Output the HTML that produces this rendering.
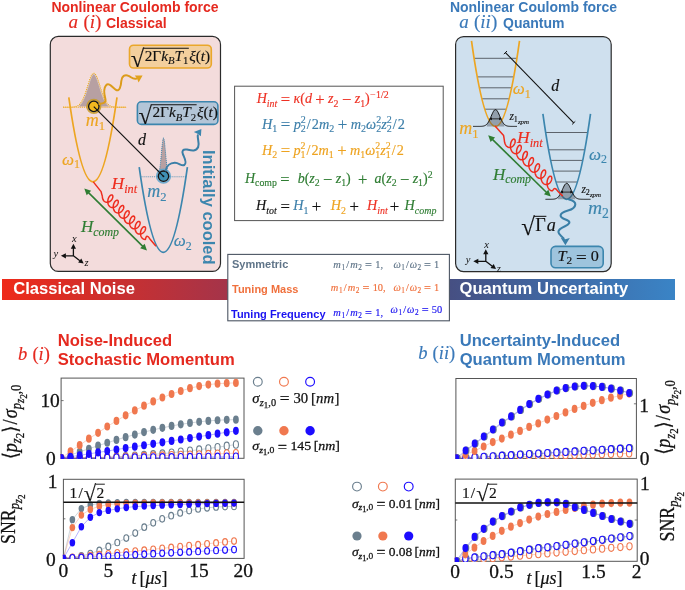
<!DOCTYPE html>
<html><head><meta charset="utf-8"><title>Figure</title>
<style>html,body{margin:0;padding:0;background:#fff}svg{display:block}text{white-space:pre}</style>
</head><body>
<svg width="685" height="590" viewBox="0 0 685 590">
<text x="135" y="11.8" font-family='"Liberation Sans",Arial,sans-serif' font-size="14" font-weight="bold" text-anchor="middle" fill="#e5291f">Nonlinear Coulomb force</text>
<g transform="translate(68.60,28.00)"><text x="0.00" y="0.00" font-family='"Liberation Serif",serif' font-size="19.00" font-style="italic" fill="#e5291f" stroke="#e5291f" stroke-width="0.15">a</text>
<text x="14.82" y="0.00" font-family='"Liberation Serif",serif' font-size="19.00" fill="#e5291f" stroke="#e5291f" stroke-width="0.15">(</text>
<text x="21.15" y="0.00" font-family='"Liberation Serif",serif' font-size="19.00" font-style="italic" fill="#e5291f" stroke="#e5291f" stroke-width="0.15">i</text>
<text x="26.43" y="0.00" font-family='"Liberation Serif",serif' font-size="19.00" fill="#e5291f" stroke="#e5291f" stroke-width="0.15">)</text></g>
<text x="106" y="27.6" font-family='"Liberation Sans",Arial,sans-serif' font-size="14" font-weight="bold" fill="#e5291f">Classical</text>
<text x="533.5" y="11.8" font-family='"Liberation Sans",Arial,sans-serif' font-size="14" font-weight="bold" text-anchor="middle" fill="#3a79b9">Nonlinear Coulomb force</text>
<rect x="50.3" y="36.4" width="170.2" height="235" rx="8" ry="8" fill="#f3dcdc" stroke="#2b2b2b" stroke-width="1.2"/>
<rect x="455.6" y="36.6" width="155.6" height="235" rx="8" ry="8" fill="#cfe0ee" stroke="#2b2b2b" stroke-width="1.2"/>
<path d="M78.50,106.60 L78.50,105.25 L79.27,104.61 L80.05,103.82 L80.82,102.85 L81.60,101.68 L82.37,100.30 L83.14,98.70 L83.92,96.88 L84.69,94.85 L85.47,92.64 L86.24,90.28 L87.01,87.83 L87.79,85.33 L88.56,82.88 L89.33,80.55 L90.11,78.41 L90.88,76.56 L91.66,75.06 L92.43,73.97 L93.20,73.35 L93.98,73.21 L94.75,73.57 L95.52,74.41 L96.30,75.69 L97.07,77.36 L97.84,79.36 L98.62,81.59 L99.39,83.99 L100.17,86.47 L100.94,88.95 L101.71,91.37 L102.49,93.67 L103.26,95.80 L104.03,97.73 L104.81,99.46 L105.58,100.96 L106.36,102.24 L107.13,103.31 L107.90,104.20 L108.68,104.92 L109.45,105.49 L110.22,105.94 L110.22,106.60 Z" fill="#b7a0a2" stroke="none"/>
<path d="M63.80,107.20 L64.57,107.20 L65.35,107.20 L66.12,107.20 L66.89,107.20 L67.67,107.19 L68.44,107.19 L69.22,107.18 L69.99,107.17 L70.76,107.15 L71.54,107.12 L72.31,107.08 L73.08,107.02 L73.86,106.93 L74.63,106.82 L75.41,106.65 L76.18,106.43 L76.95,106.14 L77.73,105.75 L78.50,105.25 L79.27,104.61 L80.05,103.82 L80.82,102.85 L81.60,101.68 L82.37,100.30 L83.14,98.70 L83.92,96.88 L84.69,94.85 L85.47,92.64 L86.24,90.28 L87.01,87.83 L87.79,85.33 L88.56,82.88 L89.33,80.55 L90.11,78.41 L90.88,76.56 L91.66,75.06 L92.43,73.97 L93.20,73.35 L93.98,73.21 L94.75,73.57 L95.52,74.41 L96.30,75.69 L97.07,77.36 L97.84,79.36 L98.62,81.59 L99.39,83.99 L100.17,86.47 L100.94,88.95 L101.71,91.37 L102.49,93.67 L103.26,95.80 L104.03,97.73 L104.81,99.46 L105.58,100.96 L106.36,102.24 L107.13,103.31 L107.90,104.20 L108.68,104.92 L109.45,105.49 L110.22,105.94 L111.00,106.28 L111.77,106.54 L112.55,106.73 L113.32,106.88 L114.09,106.98 L114.87,107.05 L115.64,107.10 L116.42,107.13 L117.19,107.16 L117.96,107.17 L118.74,107.18 L119.51,107.19 L120.28,107.19 L121.06,107.20 L121.83,107.20 L122.61,107.20 L123.38,107.20 L124.15,107.20 L124.93,107.20 L125.70,107.20" fill="none" stroke="#f8e9dc" stroke-width="2.2" stroke-opacity="0.6"/>
<path d="M63.80,107.20 L64.57,107.20 L65.35,107.20 L66.12,107.20 L66.89,107.20 L67.67,107.19 L68.44,107.19 L69.22,107.18 L69.99,107.17 L70.76,107.15 L71.54,107.12 L72.31,107.08 L73.08,107.02 L73.86,106.93 L74.63,106.82 L75.41,106.65 L76.18,106.43 L76.95,106.14 L77.73,105.75 L78.50,105.25 L79.27,104.61 L80.05,103.82 L80.82,102.85 L81.60,101.68 L82.37,100.30 L83.14,98.70 L83.92,96.88 L84.69,94.85 L85.47,92.64 L86.24,90.28 L87.01,87.83 L87.79,85.33 L88.56,82.88 L89.33,80.55 L90.11,78.41 L90.88,76.56 L91.66,75.06 L92.43,73.97 L93.20,73.35 L93.98,73.21 L94.75,73.57 L95.52,74.41 L96.30,75.69 L97.07,77.36 L97.84,79.36 L98.62,81.59 L99.39,83.99 L100.17,86.47 L100.94,88.95 L101.71,91.37 L102.49,93.67 L103.26,95.80 L104.03,97.73 L104.81,99.46 L105.58,100.96 L106.36,102.24 L107.13,103.31 L107.90,104.20 L108.68,104.92 L109.45,105.49 L110.22,105.94 L111.00,106.28 L111.77,106.54 L112.55,106.73 L113.32,106.88 L114.09,106.98 L114.87,107.05 L115.64,107.10 L116.42,107.13 L117.19,107.16 L117.96,107.17 L118.74,107.18 L119.51,107.19 L120.28,107.19 L121.06,107.20 L121.83,107.20 L122.61,107.20 L123.38,107.20 L124.15,107.20 L124.93,107.20 L125.70,107.20" fill="none" stroke="#eda521" stroke-width="1.25" stroke-linecap="round" stroke-dasharray="0.01,2.05"/>
<line x1="63.8" y1="107.2" x2="125.7" y2="107.2" stroke="#eda521" stroke-width="1.25" stroke-linecap="round" stroke-dasharray="0.01,2.05"/>
<path d="M68.80,97.40 Q92.90,266.20 117.00,97.40" fill="none" stroke="#eda521" stroke-width="1.7"/>
<path d="M157.00,176.70 L157.00,176.38 L157.19,176.28 L157.37,176.15 L157.56,176.00 L157.74,175.80 L157.93,175.56 L158.11,175.26 L158.30,174.90 L158.49,174.47 L158.67,173.95 L158.86,173.35 L159.04,172.64 L159.23,171.82 L159.41,170.88 L159.60,169.82 L159.79,168.62 L159.97,167.29 L160.16,165.83 L160.34,164.23 L160.53,162.51 L160.71,160.69 L160.90,158.76 L161.09,156.77 L161.27,154.72 L161.46,152.65 L161.64,150.59 L161.83,148.58 L162.01,146.65 L162.20,144.83 L162.39,143.17 L162.57,141.69 L162.76,140.44 L162.94,139.43 L163.13,138.70 L163.31,138.25 L163.50,138.10 L163.69,138.25 L163.87,138.70 L164.06,139.43 L164.24,140.44 L164.43,141.69 L164.61,143.17 L164.80,144.83 L164.99,146.65 L165.17,148.58 L165.36,150.59 L165.54,152.65 L165.73,154.72 L165.91,156.77 L166.10,158.76 L166.29,160.69 L166.47,162.51 L166.66,164.23 L166.84,165.83 L167.03,167.29 L167.21,168.62 L167.40,169.82 L167.59,170.88 L167.77,171.82 L167.96,172.64 L168.14,173.35 L168.33,173.95 L168.51,174.47 L168.70,174.90 L168.89,175.26 L169.07,175.56 L169.26,175.80 L169.44,176.00 L169.63,176.15 L169.81,176.28 L170.00,176.38 L170.00,176.70 Z" fill="#b7a0a2" stroke="none"/>
<path d="M157.00,176.38 L157.19,176.28 L157.37,176.15 L157.56,176.00 L157.74,175.80 L157.93,175.56 L158.11,175.26 L158.30,174.90 L158.49,174.47 L158.67,173.95 L158.86,173.35 L159.04,172.64 L159.23,171.82 L159.41,170.88 L159.60,169.82 L159.79,168.62 L159.97,167.29 L160.16,165.83 L160.34,164.23 L160.53,162.51 L160.71,160.69 L160.90,158.76 L161.09,156.77 L161.27,154.72 L161.46,152.65 L161.64,150.59 L161.83,148.58 L162.01,146.65 L162.20,144.83 L162.39,143.17 L162.57,141.69 L162.76,140.44 L162.94,139.43 L163.13,138.70 L163.31,138.25 L163.50,138.10 L163.69,138.25 L163.87,138.70 L164.06,139.43 L164.24,140.44 L164.43,141.69 L164.61,143.17 L164.80,144.83 L164.99,146.65 L165.17,148.58 L165.36,150.59 L165.54,152.65 L165.73,154.72 L165.91,156.77 L166.10,158.76 L166.29,160.69 L166.47,162.51 L166.66,164.23 L166.84,165.83 L167.03,167.29 L167.21,168.62 L167.40,169.82 L167.59,170.88 L167.77,171.82 L167.96,172.64 L168.14,173.35 L168.33,173.95 L168.51,174.47 L168.70,174.90 L168.89,175.26 L169.07,175.56 L169.26,175.80 L169.44,176.00 L169.63,176.15 L169.81,176.28 L170.00,176.38" fill="none" stroke="#3c86ae" stroke-width="1.15" stroke-linecap="round" stroke-dasharray="0.01,2.05"/>
<line x1="142" y1="176.7" x2="185.5" y2="176.7" stroke="#3c86ae" stroke-width="1.15" stroke-linecap="round" stroke-dasharray="0.01,2.05"/>
<path d="M139.20,167.20 Q163.30,337.60 187.40,167.20" fill="none" stroke="#3c86ae" stroke-width="1.7"/>
<line x1="93.8" y1="106.6" x2="163.5" y2="176.3" stroke="#111" stroke-width="1.2"/>
<circle cx="93.8" cy="106.4" r="6.7" fill="none" stroke="#c79a22" stroke-width="1.9" stroke-opacity="0.85"/>
<circle cx="93.8" cy="106.4" r="5.2" fill="#f2b81f" stroke="#151515" stroke-width="1.3"/>
<circle cx="163.5" cy="176.2" r="6.7" fill="none" stroke="#5aa3cc" stroke-width="1.9" stroke-opacity="0.85"/>
<circle cx="163.5" cy="176.2" r="5.2" fill="#3f90b4" stroke="#151515" stroke-width="1.3"/>
<line x1="93.8" y1="106.6" x2="99" y2="111.8" stroke="#111" stroke-width="1.2"/>
<line x1="158" y1="170.8" x2="163.5" y2="176.3" stroke="#111" stroke-width="1.2"/>
<circle cx="163.5" cy="176.3" r="0.9" fill="#111"/>
<path d="M99.4,104 C103,103.5 106.5,103 105.3,98.5 C104.2,94 102.8,89 106,85.3 C109,82 112.5,87.5 116,89.8 C119.5,92 121,86 121.3,81 C121.6,76 125,74.2 128.5,75.8 C131.5,77.2 133,79.8 136.5,78.6" fill="none" stroke="#dc9c1b" stroke-width="2.0" stroke-linecap="round"/>
<path d="M142.6,75.4 L134.8,75.6 L137.0,78.4 L138.6,82.6 Z" fill="#e2a21c"/>
<path d="M165.8,170.4 C166.5,166 170,163 174.7,162.8 C179,162.6 181.5,166.5 184.3,165 C187.5,163.3 184.5,158 183,154.5 C181.5,151 183,148.8 187,149.6 C191,150.4 196,152 198.2,147 C199.8,143 197.2,139.5 197.8,135.2" fill="none" stroke="#3a7fa7" stroke-width="2.0" stroke-linecap="round"/>
<path d="M201.4,128.9 L193.8,132 L197.6,133.8 L200.9,136.2 Z" fill="#3c86ae"/>
<rect x="129.5" y="45.2" width="81.8" height="22.8" rx="4" fill="#f3cf9d" stroke="#eaa72b" stroke-width="1.6"/>
<rect x="137.4" y="101.8" width="80.5" height="22.6" rx="4" fill="#b3c5d7" stroke="#3c86ae" stroke-width="1.6"/>
<g transform="translate(130.80,60.80)"><text x="0.00" y="6.27" font-family='"Liberation Serif",serif' font-size="24.48" fill="#111" stroke="#111" stroke-width="0.15">√</text>
<text x="13.87" y="0.00" font-family='"Liberation Serif",serif' font-size="15.30" fill="#111" stroke="#111" stroke-width="0.15">2Γ</text>
<text x="30.36" y="0.00" font-family='"Liberation Serif",serif' font-size="15.30" font-style="italic" fill="#111" stroke="#111" stroke-width="0.15">k</text>
<text x="37.16" y="3.37" font-family='"Liberation Serif",serif' font-size="10.71" font-style="italic" fill="#111" stroke="#111" stroke-width="0.15">B</text>
<text x="43.70" y="0.00" font-family='"Liberation Serif",serif' font-size="15.30" font-style="italic" fill="#111" stroke="#111" stroke-width="0.15">T</text>
<text x="52.21" y="3.37" font-family='"Liberation Serif",serif' font-size="10.71" fill="#111" stroke="#111" stroke-width="0.15">1</text>
<text x="58.33" y="0.00" font-family='"Liberation Serif",serif' font-size="15.30" font-style="italic" fill="#111" stroke="#111" stroke-width="0.15">ξ</text>
<text x="64.88" y="0.00" font-family='"Liberation Serif",serif' font-size="15.30" fill="#111" stroke="#111" stroke-width="0.15">(</text>
<text x="69.97" y="0.00" font-family='"Liberation Serif",serif' font-size="15.30" font-style="italic" fill="#111" stroke="#111" stroke-width="0.15">t</text>
<text x="74.22" y="0.00" font-family='"Liberation Serif",serif' font-size="15.30" fill="#111" stroke="#111" stroke-width="0.15">)</text>
<line x1="12.68" y1="-12.55" x2="58.02" y2="-12.55" stroke="#111" stroke-width="1.03"/></g>
<g transform="translate(138.60,117.40)"><text x="0.00" y="6.27" font-family='"Liberation Serif",serif' font-size="24.48" fill="#111" stroke="#111" stroke-width="0.15">√</text>
<text x="13.87" y="0.00" font-family='"Liberation Serif",serif' font-size="15.30" fill="#111" stroke="#111" stroke-width="0.15">2Γ</text>
<text x="30.36" y="0.00" font-family='"Liberation Serif",serif' font-size="15.30" font-style="italic" fill="#111" stroke="#111" stroke-width="0.15">k</text>
<text x="37.16" y="3.37" font-family='"Liberation Serif",serif' font-size="10.71" font-style="italic" fill="#111" stroke="#111" stroke-width="0.15">B</text>
<text x="43.70" y="0.00" font-family='"Liberation Serif",serif' font-size="15.30" font-style="italic" fill="#111" stroke="#111" stroke-width="0.15">T</text>
<text x="52.21" y="3.37" font-family='"Liberation Serif",serif' font-size="10.71" fill="#111" stroke="#111" stroke-width="0.15">2</text>
<text x="58.33" y="0.00" font-family='"Liberation Serif",serif' font-size="15.30" font-style="italic" fill="#111" stroke="#111" stroke-width="0.15">ξ</text>
<text x="64.88" y="0.00" font-family='"Liberation Serif",serif' font-size="15.30" fill="#111" stroke="#111" stroke-width="0.15">(</text>
<text x="69.97" y="0.00" font-family='"Liberation Serif",serif' font-size="15.30" font-style="italic" fill="#111" stroke="#111" stroke-width="0.15">t</text>
<text x="74.22" y="0.00" font-family='"Liberation Serif",serif' font-size="15.30" fill="#111" stroke="#111" stroke-width="0.15">)</text>
<line x1="12.68" y1="-12.55" x2="58.02" y2="-12.55" stroke="#111" stroke-width="1.03"/></g>
<g transform="translate(85.80,126.00)"><text x="0.00" y="0.00" font-family='"Liberation Serif",serif' font-size="18.00" font-style="italic" fill="#eda521" stroke="#eda521" stroke-width="0.15">m</text>
<text x="13.00" y="3.96" font-family='"Liberation Serif",serif' font-size="12.60" fill="#eda521" stroke="#eda521" stroke-width="0.15">1</text></g>
<g transform="translate(62.00,164.50)"><text x="0.00" y="0.00" font-family='"Liberation Serif",serif' font-size="17.00" font-style="italic" fill="#eda521" stroke="#eda521" stroke-width="0.15">ω</text>
<text x="12.00" y="3.74" font-family='"Liberation Serif",serif' font-size="11.90" fill="#eda521" stroke="#eda521" stroke-width="0.15">1</text></g>
<g transform="translate(137.90,144.70)"><text x="0.00" y="0.00" font-family='"Liberation Serif",serif' font-size="16.00" font-style="italic" fill="#111" stroke="#111" stroke-width="0.15">d</text></g>
<g transform="translate(147.20,196.80)"><text x="0.00" y="0.00" font-family='"Liberation Serif",serif' font-size="18.00" font-style="italic" fill="#3c86ae" stroke="#3c86ae" stroke-width="0.15">m</text>
<text x="13.00" y="3.96" font-family='"Liberation Serif",serif' font-size="12.60" fill="#3c86ae" stroke="#3c86ae" stroke-width="0.15">2</text></g>
<g transform="translate(173.70,246.00)"><text x="0.00" y="0.00" font-family='"Liberation Serif",serif' font-size="17.00" font-style="italic" fill="#3c86ae" stroke="#3c86ae" stroke-width="0.15">ω</text>
<text x="12.00" y="3.74" font-family='"Liberation Serif",serif' font-size="11.90" fill="#3c86ae" stroke="#3c86ae" stroke-width="0.15">2</text></g>
<g transform="translate(111.50,189.40)"><text x="0.00" y="0.00" font-family='"Liberation Serif",serif' font-size="17.50" font-style="italic" fill="#ee2d1f" stroke="#ee2d1f" stroke-width="0.15">H</text>
<text x="12.64" y="3.85" font-family='"Liberation Serif",serif' font-size="12.25" font-style="italic" fill="#ee2d1f" stroke="#ee2d1f" stroke-width="0.15">int</text></g>
<g transform="translate(80.90,231.90)"><text x="0.00" y="0.00" font-family='"Liberation Serif",serif' font-size="17.00" font-style="italic" fill="#2f7d33" stroke="#2f7d33" stroke-width="0.15">H</text>
<text x="12.28" y="3.74" font-family='"Liberation Serif",serif' font-size="11.90" font-style="italic" fill="#2f7d33" stroke="#2f7d33" stroke-width="0.15">comp</text></g>
<text transform="translate(202.9,150) rotate(90)" font-family='"Liberation Sans",Arial,sans-serif' font-size="16.5" font-weight="bold" fill="#3c86ae">Initially cooled</text>
<path d="M93.70,182.40 L101.10,191.60 Q101.50,193.50 102.36,196.18 L102.38,196.88 L102.45,197.56 L102.57,198.22 L102.75,198.85 L102.99,199.45 L103.27,200.01 L103.61,200.52 L103.98,200.97 L104.41,201.36 L104.86,201.69 L105.35,201.95 L105.87,202.14 L106.40,202.26 L106.95,202.30 L107.51,202.28 L108.07,202.19 L108.62,202.03 L109.16,201.81 L109.69,201.54 L110.19,201.21 L110.65,200.83 L111.09,200.42 L111.48,199.97 L111.83,199.50 L112.14,199.01 L112.39,198.52 L112.59,198.03 L112.73,197.55 L112.83,197.08 L112.86,196.65 L112.85,196.24 L112.78,195.88 L112.66,195.57 L112.50,195.31 L112.29,195.11 L112.05,194.97 L111.77,194.90 L111.47,194.90 L111.15,194.97 L110.81,195.12 L110.46,195.33 L110.11,195.61 L109.76,195.96 L109.43,196.37 L109.11,196.84 L108.81,197.37 L108.55,197.94 L108.31,198.55 L108.12,199.19 L107.97,199.86 L107.87,200.55 L107.81,201.24 L107.81,201.94 L107.87,202.62 L107.97,203.29 L108.14,203.94 L108.35,204.55 L108.62,205.12 L108.94,205.65 L109.30,206.12 L109.71,206.53 L110.15,206.88 L110.63,207.17 L111.14,207.38 L111.67,207.52 L112.21,207.60 L112.77,207.60 L113.33,207.53 L113.88,207.40 L114.43,207.20 L114.96,206.94 L115.47,206.63 L115.95,206.27 L116.39,205.86 L116.80,205.43 L117.17,204.96 L117.49,204.48 L117.76,203.99 L117.98,203.50 L118.14,203.01 L118.25,202.54 L118.31,202.09 L118.31,201.68 L118.26,201.30 L118.16,200.97 L118.01,200.69 L117.82,200.47 L117.59,200.31 L117.32,200.22 L117.03,200.19 L116.71,200.24 L116.38,200.36 L116.03,200.55 L115.68,200.81 L115.33,201.13 L114.99,201.52 L114.67,201.97 L114.36,202.48 L114.08,203.03 L113.84,203.63 L113.63,204.27 L113.47,204.93 L113.35,205.61 L113.28,206.30 L113.26,207.00 L113.29,207.69 L113.38,208.36 L113.52,209.02 L113.72,209.64 L113.97,210.23 L114.27,210.77 L114.62,211.26 L115.01,211.70 L115.44,212.07 L115.91,212.37 L116.41,212.61 L116.93,212.78 L117.47,212.88 L118.02,212.91 L118.58,212.86 L119.14,212.75 L119.69,212.57 L120.23,212.33 L120.74,212.04 L121.23,211.70 L121.69,211.31 L122.12,210.88 L122.50,210.43 L122.83,209.95 L123.12,209.46 L123.36,208.97 L123.54,208.48 L123.67,208.00 L123.74,207.54 L123.76,207.12 L123.73,206.73 L123.65,206.38 L123.52,206.08 L123.34,205.84 L123.12,205.66 L122.87,205.54 L122.58,205.50 L122.27,205.52 L121.94,205.61 L121.60,205.77 L121.25,206.01 L120.90,206.31 L120.56,206.68 L120.23,207.11 L119.91,207.60 L119.63,208.14 L119.37,208.72 L119.15,209.34 L118.97,210.00 L118.83,210.67 L118.74,211.36 L118.71,212.06 L118.72,212.75 L118.79,213.43 L118.92,214.10 L119.10,214.73 L119.33,215.33 L119.61,215.89 L119.94,216.40 L120.32,216.85 L120.74,217.25 L121.19,217.58 L121.68,217.84 L122.20,218.03 L122.73,218.15 L123.28,218.20 L123.84,218.18 L124.40,218.10 L124.95,217.94 L125.49,217.72 L126.02,217.45 L126.52,217.12 L126.99,216.75 L127.42,216.33 L127.82,215.89 L128.17,215.42 L128.48,214.93 L128.73,214.44 L128.93,213.95 L129.08,213.46 L129.17,213.00 L129.21,212.56 L129.20,212.16 L129.13,211.79 L129.02,211.48 L128.86,211.22 L128.65,211.01 L128.41,210.88 L128.14,210.80 L127.83,210.80 L127.51,210.87 L127.17,211.01 L126.82,211.22 L126.47,211.50 L126.13,211.85 L125.79,212.26 L125.47,212.72 L125.17,213.24 L124.91,213.81 L124.67,214.42 L124.48,215.07 L124.32,215.74 L124.22,216.42 L124.16,217.12 L124.16,217.81 L124.21,218.50 L124.32,219.17 L124.48,219.81 L124.69,220.43 L124.96,221.00 L125.27,221.53 L125.63,222.00 L126.04,222.42 L126.48,222.77 L126.96,223.06 L127.47,223.27 L128.00,223.42 L128.54,223.49 L129.10,223.50 L129.65,223.43 L130.21,223.30 L130.76,223.10 L131.29,222.85 L131.80,222.54 L132.28,222.18 L132.73,221.78 L133.14,221.34 L133.51,220.88 L133.83,220.40 L134.10,219.91 L134.32,219.42 L134.49,218.93 L134.60,218.46 L134.66,218.01 L134.66,217.59 L134.61,217.21 L134.51,216.88 L134.37,216.60 L134.18,216.38 L133.95,216.22 L133.68,216.12 L133.39,216.09 L133.07,216.14 L132.74,216.25 L132.39,216.44 L132.04,216.69 L131.69,217.02 L131.35,217.41 L131.03,217.86 L130.72,218.36 L130.44,218.91 L130.20,219.51 L129.99,220.14 L129.82,220.80 L129.70,221.48 L129.63,222.18 L129.61,222.87 L129.64,223.56 L129.73,224.24 L129.87,224.89 L130.06,225.52 L130.31,226.11 L130.61,226.65 L130.95,227.14 L131.34,227.58 L131.78,227.95 L132.24,228.26 L132.74,228.51 L133.26,228.68 L133.80,228.78 L134.35,228.81 L134.91,228.76 L135.47,228.65 L136.02,228.48 L136.56,228.24 L137.07,227.95 L137.57,227.61 L138.03,227.22 L138.45,226.80 L138.83,226.34 L139.17,225.87 L139.46,225.38 L139.70,224.89 L139.88,224.40 L140.01,223.92 L140.09,223.46 L140.11,223.03 L140.08,222.64 L140.00,222.29 L139.87,221.99 L139.70,221.75 L139.48,221.57 L139.23,221.45 L138.94,221.40 L138.64,221.41 L138.31,221.50 L137.96,221.67 L137.61,221.90 L137.26,222.20 L136.92,222.57 L136.59,222.99 L136.28,223.48 L135.99,224.02 L135.73,224.60 L135.51,225.22 L135.32,225.87 L135.19,226.55 L135.10,227.23 L135.06,227.93 L135.07,228.62 L135.14,229.31 L135.26,229.97 L135.44,230.61 L135.67,231.21 L135.95,231.77 L136.28,232.28 L136.66,232.74 L137.07,233.13 L137.53,233.47 L138.01,233.73 L138.53,233.93 L139.06,234.05 L139.61,234.10 L140.17,234.09 L140.73,234.00 L141.28,233.85 L141.82,233.63 L142.35,233.36 L142.85,233.03 L143.32,232.66 L143.76,232.25 L144.16,231.80 L144.51,231.34 L144.82,230.85 L145.07,230.36 L145.28,229.86 L145.43,229.38 L145.52,228.92 L145.56,228.48 L145.55,228.07 L145.49,227.71 L145.37,227.39 L145.21,227.13 L145.01,226.92 L144.77,226.78 L144.50,226.71 L144.19,226.70 L143.87,226.77 L143.53,226.90 L143.19,227.11 L142.83,227.39 L142.49,227.73 L142.15,228.14 L141.83,228.60 L141.53,229.12 L141.26,229.69 L141.03,230.30 L140.83,230.94 L140.68,231.61 L140.57,232.30 L140.52,232.99 L140.51,233.69 L140.56,234.37 L140.66,235.04 L140.82,235.69 L141.03,236.31 L141.30,236.88 L141.61,237.41 L141.97,237.88 L142.37,238.30 L142.82,238.66 L143.29,238.95 L143.80,239.17 L144.33,239.32 L144.87,239.39 L145.42,239.40 Q146.50,233.50 149.90,238.90 L155.60,245.80" fill="none" stroke="#ee2d1f" stroke-width="1.5" stroke-linejoin="round" stroke-linecap="round"/>
<line x1="88.00" y1="192.16" x2="143.30" y2="246.84" stroke="#2f7d33" stroke-width="1.6"/>
<path d="M84.30,188.50 L86.67,195.35 L91.17,190.79 Z" fill="#2f7d33"/>
<path d="M147.00,250.50 L140.13,248.21 L144.63,243.65 Z" fill="#2f7d33"/>
<path d="M73.4,255.8 L73.4,247.8 M73.4,255.8 L65.4,255.8 M73.4,255.8 L79.9,260.8" stroke="#111" stroke-width="1.3" fill="none"/>
<path d="M73.4,243.8 l-2.6,5 l5.2,0 Z" fill="#111"/>
<path d="M60.900000000000006,255.8 l5,-2.6 l0,5.2 Z" fill="#111"/>
<path d="M83.7,263.6 l-5.6,-1.1 l3.2,-4.1 Z" fill="#111"/>
<text x="71.9" y="242.3" font-family='"Liberation Serif",serif' font-size="10.5" font-style="italic" fill="#111">x</text>
<text x="53.400000000000006" y="257.40000000000003" font-family='"Liberation Serif",serif' font-size="10.5" font-style="italic" fill="#111">y</text>
<text x="84.4" y="266.3" font-family='"Liberation Serif",serif' font-size="10.5" font-style="italic" fill="#111">z</text>
<path d="M485.8,261.3 L485.8,253.3 M485.8,261.3 L477.8,261.3 M485.8,261.3 L492.3,266.3" stroke="#111" stroke-width="1.3" fill="none"/>
<path d="M485.8,249.3 l-2.6,5 l5.2,0 Z" fill="#111"/>
<path d="M473.3,261.3 l5,-2.6 l0,5.2 Z" fill="#111"/>
<path d="M496.1,269.1 l-5.6,-1.1 l3.2,-4.1 Z" fill="#111"/>
<text x="484.3" y="247.8" font-family='"Liberation Serif",serif' font-size="10.5" font-style="italic" fill="#111">x</text>
<text x="465.8" y="262.90000000000003" font-family='"Liberation Serif",serif' font-size="10.5" font-style="italic" fill="#111">y</text>
<text x="496.8" y="271.8" font-family='"Liberation Serif",serif' font-size="10.5" font-style="italic" fill="#111">z</text>
<g transform="translate(459.20,28.00)"><text x="0.00" y="0.00" font-family='"Liberation Serif",serif' font-size="19.00" font-style="italic" fill="#3a79b9" stroke="#3a79b9" stroke-width="0.15">a</text>
<text x="14.82" y="0.00" font-family='"Liberation Serif",serif' font-size="19.00" fill="#3a79b9" stroke="#3a79b9" stroke-width="0.15">(</text>
<text x="21.15" y="0.00" font-family='"Liberation Serif",serif' font-size="19.00" font-style="italic" fill="#3a79b9" stroke="#3a79b9" stroke-width="0.15">ii</text>
<text x="31.70" y="0.00" font-family='"Liberation Serif",serif' font-size="19.00" fill="#3a79b9" stroke="#3a79b9" stroke-width="0.15">)</text></g>
<text x="503" y="27.6" font-family='"Liberation Sans",Arial,sans-serif' font-size="14" font-weight="bold" fill="#3a79b9">Quantum</text>
<line x1="474.08" y1="58.3" x2="516.92" y2="58.3" stroke="#5c636b" stroke-width="1"/>
<line x1="477.24" y1="76.9" x2="513.76" y2="76.9" stroke="#5c636b" stroke-width="1"/>
<line x1="479.37" y1="87.8" x2="511.63" y2="87.8" stroke="#5c636b" stroke-width="1"/>
<line x1="481.86" y1="98.8" x2="509.14" y2="98.8" stroke="#5c636b" stroke-width="1"/>
<line x1="484.74" y1="109.2" x2="506.26" y2="109.2" stroke="#5c636b" stroke-width="1"/>
<path d="M471.50,40.90 Q495.50,211.90 519.50,40.90" fill="none" stroke="#eda521" stroke-width="1.7"/>
<line x1="545.65" y1="132.5" x2="587.75" y2="132.5" stroke="#5c636b" stroke-width="1"/>
<line x1="548.58" y1="149.8" x2="584.82" y2="149.8" stroke="#5c636b" stroke-width="1"/>
<line x1="550.64" y1="160.4" x2="582.76" y2="160.4" stroke="#5c636b" stroke-width="1"/>
<line x1="553.02" y1="171.1" x2="580.38" y2="171.1" stroke="#5c636b" stroke-width="1"/>
<line x1="555.99" y1="182.0" x2="577.41" y2="182.0" stroke="#5c636b" stroke-width="1"/>
<path d="M542.90,113.90 Q566.70,284.70 590.50,113.90" fill="none" stroke="#3c86ae" stroke-width="1.7"/>
<path d="M486.75,126.40 L486.75,124.28 L487.30,123.67 L487.85,122.95 L488.40,122.10 L488.95,121.13 L489.50,120.05 L490.05,118.88 L490.60,117.62 L491.15,116.33 L491.70,115.03 L492.25,113.77 L492.80,112.61 L493.35,111.57 L493.90,110.72 L494.45,110.09 L495.00,109.71 L495.55,109.60 L496.10,109.76 L496.65,110.19 L497.20,110.86 L497.75,111.75 L498.30,112.81 L498.85,114.00 L499.40,115.27 L499.95,116.57 L500.50,117.86 L501.05,119.10 L501.60,120.26 L502.15,121.32 L502.70,122.26 L503.25,123.09 L503.80,123.79 L504.35,124.38 L504.35,126.40 Z" fill="#3d4652" fill-opacity="0.42" stroke="none"/>
<path d="M473.00,126.40 L473.55,126.40 L474.10,126.40 L474.65,126.40 L475.20,126.40 L475.75,126.40 L476.30,126.40 L476.85,126.40 L477.40,126.40 L477.95,126.40 L478.50,126.39 L479.05,126.39 L479.60,126.38 L480.15,126.37 L480.70,126.36 L481.25,126.33 L481.80,126.30 L482.35,126.24 L482.90,126.17 L483.45,126.07 L484.00,125.93 L484.55,125.74 L485.10,125.50 L485.65,125.18 L486.20,124.78 L486.75,124.28 L487.30,123.67 L487.85,122.95 L488.40,122.10 L488.95,121.13 L489.50,120.05 L490.05,118.88 L490.60,117.62 L491.15,116.33 L491.70,115.03 L492.25,113.77 L492.80,112.61 L493.35,111.57 L493.90,110.72 L494.45,110.09 L495.00,109.71 L495.55,109.60 L496.10,109.76 L496.65,110.19 L497.20,110.86 L497.75,111.75 L498.30,112.81 L498.85,114.00 L499.40,115.27 L499.95,116.57 L500.50,117.86 L501.05,119.10 L501.60,120.26 L502.15,121.32 L502.70,122.26 L503.25,123.09 L503.80,123.79 L504.35,124.38 L504.90,124.86 L505.45,125.24 L506.00,125.55 L506.55,125.78 L507.10,125.96 L507.65,126.09 L508.20,126.19 L508.75,126.25 L509.30,126.30 L509.85,126.34 L510.40,126.36 L510.95,126.37 L511.50,126.38 L512.05,126.39 L512.60,126.39 L513.15,126.40 L513.70,126.40 L514.25,126.40 L514.80,126.40 L515.35,126.40 L515.90,126.40 L516.45,126.40 L517.00,126.40" fill="none" stroke="#111" stroke-width="1"/>
<line x1="490.12" y1="118.84" x2="500.88" y2="118.84" stroke="#111" stroke-width="0.8"/>
<path d="M489.26,118.84 l2.60,-1.5 l0,3 Z" fill="#111"/>
<path d="M501.74,118.84 l-2.60,-1.5 l0,3 Z" fill="#111"/>
<path d="M557.88,199.30 L557.88,197.35 L558.44,196.77 L559.00,196.08 L559.56,195.27 L560.12,194.33 L560.69,193.28 L561.25,192.13 L561.81,190.91 L562.38,189.65 L562.94,188.39 L563.50,187.17 L564.06,186.04 L564.62,185.06 L565.19,184.26 L565.75,183.69 L566.31,183.36 L566.88,183.31 L567.44,183.53 L568.00,184.01 L568.56,184.73 L569.12,185.65 L569.69,186.73 L570.25,187.92 L570.81,189.17 L571.38,190.44 L571.94,191.68 L572.50,192.86 L573.06,193.95 L573.62,194.93 L574.19,195.79 L574.75,196.53 L575.31,197.15 L575.31,199.30 Z" fill="#3d4652" fill-opacity="0.42" stroke="none"/>
<path d="M545.50,199.30 L546.06,199.30 L546.62,199.30 L547.19,199.30 L547.75,199.30 L548.31,199.30 L548.88,199.30 L549.44,199.29 L550.00,199.29 L550.56,199.29 L551.12,199.28 L551.69,199.26 L552.25,199.24 L552.81,199.21 L553.38,199.17 L553.94,199.10 L554.50,199.01 L555.06,198.89 L555.62,198.72 L556.19,198.49 L556.75,198.20 L557.31,197.82 L557.88,197.35 L558.44,196.77 L559.00,196.08 L559.56,195.27 L560.12,194.33 L560.69,193.28 L561.25,192.13 L561.81,190.91 L562.38,189.65 L562.94,188.39 L563.50,187.17 L564.06,186.04 L564.62,185.06 L565.19,184.26 L565.75,183.69 L566.31,183.36 L566.88,183.31 L567.44,183.53 L568.00,184.01 L568.56,184.73 L569.12,185.65 L569.69,186.73 L570.25,187.92 L570.81,189.17 L571.38,190.44 L571.94,191.68 L572.50,192.86 L573.06,193.95 L573.62,194.93 L574.19,195.79 L574.75,196.53 L575.31,197.15 L575.88,197.66 L576.44,198.07 L577.00,198.39 L577.56,198.64 L578.12,198.83 L578.69,198.97 L579.25,199.07 L579.81,199.15 L580.38,199.20 L580.94,199.23 L581.50,199.26 L582.06,199.27 L582.62,199.28 L583.19,199.29 L583.75,199.29 L584.31,199.30 L584.88,199.30 L585.44,199.30 L586.00,199.30 L586.56,199.30 L587.12,199.30 L587.69,199.30 L588.25,199.30 L588.81,199.30 L589.38,199.30 L589.94,199.30 L590.50,199.30" fill="none" stroke="#111" stroke-width="1"/>
<line x1="561.33" y1="192.10" x2="572.08" y2="192.10" stroke="#111" stroke-width="0.8"/>
<path d="M560.47,192.10 l2.60,-1.5 l0,3 Z" fill="#111"/>
<path d="M572.94,192.10 l-2.60,-1.5 l0,3 Z" fill="#111"/>
<line x1="505.4" y1="52.6" x2="573.7" y2="122.9" stroke="#111" stroke-width="1.1"/>
<line x1="506.98" y1="51.07" x2="503.82" y2="54.13" stroke="#111" stroke-width="1"/>
<line x1="575.28" y1="121.37" x2="572.12" y2="124.43" stroke="#111" stroke-width="1"/>
<g transform="translate(551.20,90.80)"><text x="0.00" y="0.00" font-family='"Liberation Serif",serif' font-size="16.00" font-style="italic" fill="#111" stroke="#111" stroke-width="0.15">d</text></g>
<g transform="translate(512.80,94.00)"><text x="0.00" y="0.00" font-family='"Liberation Serif",serif' font-size="17.00" font-style="italic" fill="#eda521" stroke="#eda521" stroke-width="0.15">ω</text>
<text x="12.00" y="3.74" font-family='"Liberation Serif",serif' font-size="11.90" fill="#eda521" stroke="#eda521" stroke-width="0.15">1</text></g>
<g transform="translate(459.30,134.40)"><text x="0.00" y="0.00" font-family='"Liberation Serif",serif' font-size="18.00" font-style="italic" fill="#eda521" stroke="#eda521" stroke-width="0.15">m</text>
<text x="13.00" y="3.96" font-family='"Liberation Serif",serif' font-size="12.60" fill="#eda521" stroke="#eda521" stroke-width="0.15">1</text></g>
<g transform="translate(589.00,159.50)"><text x="0.00" y="0.00" font-family='"Liberation Serif",serif' font-size="17.00" font-style="italic" fill="#3c86ae" stroke="#3c86ae" stroke-width="0.15">ω</text>
<text x="12.00" y="3.74" font-family='"Liberation Serif",serif' font-size="11.90" fill="#3c86ae" stroke="#3c86ae" stroke-width="0.15">2</text></g>
<g transform="translate(588.00,213.80)"><text x="0.00" y="0.00" font-family='"Liberation Serif",serif' font-size="19.50" font-style="italic" fill="#3c86ae" stroke="#3c86ae" stroke-width="0.15">m</text>
<text x="14.08" y="4.29" font-family='"Liberation Serif",serif' font-size="13.65" fill="#3c86ae" stroke="#3c86ae" stroke-width="0.15">2</text></g>
<g transform="translate(509.40,119.60)"><text x="0.00" y="0.00" font-family='"Liberation Serif",serif' font-size="11.50" font-style="italic" fill="#111" stroke="#111" stroke-width="0.15">z</text>
<text x="4.48" y="2.53" font-family='"Liberation Serif",serif' font-size="8.05" fill="#111" stroke="#111" stroke-width="0.15">1</text>
<text x="8.50" y="4.30" font-family='"Liberation Serif",serif' font-size="6.92" font-style="italic" fill="#111" stroke="#111" stroke-width="0.15">zpm</text></g>
<g transform="translate(581.40,192.60)"><text x="0.00" y="0.00" font-family='"Liberation Serif",serif' font-size="11.50" font-style="italic" fill="#111" stroke="#111" stroke-width="0.15">z</text>
<text x="4.48" y="2.53" font-family='"Liberation Serif",serif' font-size="8.05" fill="#111" stroke="#111" stroke-width="0.15">2</text>
<text x="8.50" y="4.30" font-family='"Liberation Serif",serif' font-size="6.92" font-style="italic" fill="#111" stroke="#111" stroke-width="0.15">zpm</text></g>
<path d="M495.50,126.40 L503.60,135.60 Q504.00,137.80 504.37,140.48 L504.44,141.27 L504.57,142.05 L504.75,142.81 L504.99,143.54 L505.27,144.22 L505.61,144.86 L505.99,145.44 L506.41,145.95 L506.87,146.40 L507.36,146.78 L507.88,147.07 L508.42,147.29 L508.98,147.42 L509.54,147.48 L510.11,147.45 L510.67,147.35 L511.22,147.17 L511.76,146.92 L512.27,146.60 L512.76,146.22 L513.21,145.79 L513.62,145.32 L513.99,144.81 L514.32,144.28 L514.59,143.72 L514.81,143.16 L514.98,142.60 L515.10,142.05 L515.16,141.53 L515.16,141.03 L515.12,140.58 L515.03,140.17 L514.89,139.81 L514.71,139.52 L514.49,139.30 L514.23,139.15 L513.95,139.07 L513.65,139.08 L513.33,139.16 L512.99,139.33 L512.66,139.58 L512.33,139.91 L512.01,140.31 L511.70,140.79 L511.42,141.33 L511.16,141.93 L510.93,142.59 L510.75,143.29 L510.60,144.03 L510.50,144.80 L510.45,145.59 L510.46,146.38 L510.51,147.18 L510.62,147.97 L510.78,148.73 L511.00,149.47 L511.27,150.17 L511.58,150.83 L511.95,151.43 L512.36,151.97 L512.80,152.44 L513.29,152.84 L513.80,153.16 L514.33,153.41 L514.88,153.57 L515.44,153.65 L516.01,153.65 L516.58,153.58 L517.13,153.42 L517.68,153.19 L518.20,152.90 L518.69,152.54 L519.16,152.13 L519.58,151.67 L519.97,151.18 L520.31,150.65 L520.60,150.10 L520.84,149.54 L521.03,148.98 L521.16,148.43 L521.24,147.89 L521.27,147.38 L521.24,146.91 L521.17,146.49 L521.04,146.11 L520.87,145.80 L520.67,145.55 L520.42,145.37 L520.15,145.27 L519.85,145.25 L519.54,145.31 L519.21,145.45 L518.88,145.67 L518.54,145.97 L518.22,146.35 L517.90,146.80 L517.61,147.32 L517.34,147.90 L517.11,148.54 L516.91,149.23 L516.75,149.96 L516.63,150.71 L516.57,151.50 L516.55,152.29 L516.59,153.09 L516.68,153.88 L516.82,154.66 L517.02,155.40 L517.27,156.12 L517.57,156.79 L517.92,157.41 L518.31,157.97 L518.75,158.47 L519.22,158.89 L519.72,159.24 L520.24,159.51 L520.79,159.71 L521.35,159.82 L521.92,159.85 L522.48,159.80 L523.04,159.67 L523.59,159.46 L524.12,159.19 L524.63,158.86 L525.10,158.46 L525.54,158.02 L525.94,157.53 L526.30,157.02 L526.61,156.47 L526.86,155.92 L527.07,155.36 L527.22,154.80 L527.32,154.26 L527.37,153.74 L527.36,153.25 L527.30,152.81 L527.19,152.42 L527.04,152.08 L526.84,151.81 L526.61,151.61 L526.35,151.48 L526.06,151.43 L525.75,151.46 L525.42,151.57 L525.09,151.77 L524.76,152.04 L524.43,152.39 L524.11,152.82 L523.81,153.31 L523.53,153.88 L523.29,154.50 L523.07,155.17 L522.90,155.88 L522.77,156.63 L522.68,157.41 L522.65,158.20 L522.67,159.00 L522.74,159.79 L522.86,160.57 L523.04,161.33 L523.28,162.06 L523.56,162.75 L523.89,163.38 L524.27,163.97 L524.69,164.49 L525.15,164.94 L525.64,165.31 L526.16,165.61 L526.70,165.83 L527.25,165.97 L527.82,166.03 L528.39,166.01 L528.95,165.90 L529.50,165.73 L530.04,165.48 L530.55,165.16 L531.04,164.79 L531.49,164.36 L531.91,163.89 L532.28,163.38 L532.60,162.85 L532.88,162.29 L533.10,161.73 L533.28,161.17 L533.39,160.62 L533.46,160.10 L533.47,159.60 L533.42,159.14 L533.33,158.73 L533.19,158.38 L533.01,158.08 L532.80,157.85 L532.54,157.70 L532.26,157.62 L531.96,157.63 L531.64,157.71 L531.31,157.87 L530.97,158.12 L530.64,158.45 L530.32,158.85 L530.01,159.32 L529.73,159.86 L529.47,160.46 L529.24,161.11 L529.05,161.81 L528.91,162.55 L528.81,163.32 L528.76,164.11 L528.76,164.90 L528.81,165.70 L528.91,166.49 L529.08,167.26 L529.29,168.00 L529.56,168.70 L529.87,169.35 L530.24,169.96 L530.64,170.50 L531.09,170.97 L531.57,171.37 L532.08,171.70 L532.61,171.95 L533.16,172.12 L533.72,172.20 L534.29,172.21 L534.86,172.13 L535.41,171.98 L535.96,171.75 L536.48,171.46 L536.98,171.11 L537.44,170.70 L537.87,170.24 L538.26,169.74 L538.60,169.22 L538.89,168.67 L539.13,168.11 L539.32,167.55 L539.46,167.00 L539.54,166.46 L539.57,165.95 L539.54,165.48 L539.47,165.05 L539.35,164.68 L539.18,164.36 L538.97,164.11 L538.73,163.93 L538.46,163.83 L538.17,163.80 L537.85,163.85 L537.52,163.99 L537.19,164.21 L536.86,164.51 L536.53,164.88 L536.22,165.33 L535.92,165.85 L535.65,166.43 L535.42,167.07 L535.21,167.75 L535.05,168.48 L534.94,169.24 L534.87,170.02 L534.85,170.81 L534.88,171.61 L534.97,172.40 L535.11,173.18 L535.31,173.93 L535.56,174.64 L535.86,175.32 L536.20,175.94 L536.60,176.50 L537.03,177.00 L537.50,177.43 L538.00,177.78 L538.52,178.06 L539.07,178.25 L539.63,178.36 L540.19,178.40 L540.76,178.35 L541.32,178.22 L541.87,178.02 L542.40,177.75 L542.91,177.42 L543.38,177.03 L543.83,176.59 L544.23,176.10 L544.58,175.59 L544.90,175.04 L545.16,174.49 L545.36,173.93 L545.52,173.37 L545.62,172.83 L545.66,172.31 L545.66,171.82 L545.60,171.38 L545.49,170.98 L545.34,170.64 L545.15,170.37 L544.92,170.17 L544.66,170.04 L544.37,169.98 L544.06,170.01 L543.74,170.12 L543.40,170.31 L543.07,170.58 L542.74,170.93 L542.42,171.35 L542.12,171.85 L541.84,172.40 L541.59,173.02 L541.38,173.69 L541.20,174.41 L541.07,175.15 L540.99,175.93 L540.95,176.72 L540.97,177.52 L541.04,178.31 L541.16,179.09 L541.34,179.85 L541.57,180.58 L541.85,181.27 L542.18,181.91 L542.56,182.50 L542.97,183.02 L543.43,183.47 L543.92,183.85 L544.44,184.15 L544.98,184.38 L545.53,184.52 L546.10,184.58 L546.67,184.56 L547.23,184.46 L547.78,184.28 L548.32,184.04 L548.84,183.73 L549.32,183.35 L549.78,182.93 L550.19,182.46 L550.57,181.95 L550.89,181.42 L551.17,180.87 L551.40,180.30 L551.57,179.74 L551.69,179.20 L551.75,178.67 L551.77,178.17 L551.73,177.71 L551.64,177.30 L551.50,176.94 L551.32,176.64 L551.10,176.41 L550.85,176.26 L550.57,176.18 L550.27,176.17 L549.95,176.26 L549.62,176.42 L549.29,176.66 L548.95,176.98 L548.63,177.38 L548.32,177.85 L548.04,178.39 L547.78,178.99 L547.55,179.64 L547.36,180.34 L547.21,181.07 L547.11,181.84 L547.06,182.63 L547.05,183.42 L547.11,184.22 L547.21,185.01 L547.37,185.78 L547.58,186.52 L547.85,187.22 L548.16,187.88 L548.52,188.48 L548.93,189.03 L549.37,189.50 L549.85,189.91 L550.36,190.24 L550.89,190.49 L551.44,190.66 L552.00,190.75 L552.57,190.76 Q554.50,186.00 557.80,191.20 L562.30,195.60" fill="none" stroke="#ee2d1f" stroke-width="1.5" stroke-linejoin="round" stroke-linecap="round"/>
<line x1="491.91" y1="138.84" x2="547.09" y2="192.96" stroke="#2f7d33" stroke-width="1.6"/>
<path d="M488.20,135.20 L490.60,142.04 L495.08,137.47 Z" fill="#2f7d33"/>
<path d="M550.80,196.60 L543.92,194.33 L548.40,189.76 Z" fill="#2f7d33"/>
<g transform="translate(517.00,143.20)"><text x="0.00" y="0.00" font-family='"Liberation Serif",serif' font-size="17.50" font-style="italic" fill="#ee2d1f" stroke="#ee2d1f" stroke-width="0.15">H</text>
<text x="12.64" y="3.85" font-family='"Liberation Serif",serif' font-size="12.25" font-style="italic" fill="#ee2d1f" stroke="#ee2d1f" stroke-width="0.15">int</text></g>
<g transform="translate(493.00,179.50)"><text x="0.00" y="0.00" font-family='"Liberation Serif",serif' font-size="17.00" font-style="italic" fill="#2f7d33" stroke="#2f7d33" stroke-width="0.15">H</text>
<text x="12.28" y="3.74" font-family='"Liberation Serif",serif' font-size="11.90" font-style="italic" fill="#2f7d33" stroke="#2f7d33" stroke-width="0.15">comp</text></g>
<path d="M569,199.6 C572.5,200.5 575.6,202 575.3,204.6 C575,207.5 572.5,209.3 568,210.6 C564,211.8 560.5,213 560.6,215.6 C560.8,218.5 566,219.3 568.3,220.8 C570.3,222.2 569.5,224.3 565,226.2 C561,228 558.3,229.5 558.4,232 C558.5,234.5 561.5,235.8 563.6,238.5" fill="none" stroke="#3a7fa7" stroke-width="2.1" stroke-linecap="round"/>
<path d="M565.4,245.2 L560.7,237.7 L565.2,239.3 L569.8,238.1 Z" fill="#3a7fa7"/>
<g transform="translate(521.20,230.80)"><text x="0.00" y="4.55" font-family='"Liberation Serif",serif' font-size="24.75" fill="#111" stroke="#111" stroke-width="0.15">√</text>
<text x="14.11" y="0.00" font-family='"Liberation Serif",serif' font-size="18.20" fill="#111" stroke="#111" stroke-width="0.15">Γ</text>
<text x="25.54" y="0.00" font-family='"Liberation Serif",serif' font-size="18.20" font-style="italic" fill="#111" stroke="#111" stroke-width="0.15">a</text>
<line x1="12.82" y1="-14.48" x2="25.17" y2="-14.48" stroke="#111" stroke-width="1.04"/></g>
<rect x="551" y="246.4" width="52.2" height="21.4" rx="4.5" fill="#9ec4dd" stroke="#3c86ae" stroke-width="1.6"/>
<g transform="translate(557.50,261.20) scale(1.14,1)"><text x="0.00" y="0.00" font-family='"Liberation Serif",serif' font-size="14.20" font-style="italic" fill="#111" stroke="#111" stroke-width="0.15">T</text>
<text x="7.90" y="3.12" font-family='"Liberation Serif",serif' font-size="9.94" fill="#111" stroke="#111" stroke-width="0.15">2</text>
<text x="16.28" y="1.42" font-family='"Liberation Serif",serif' font-size="16.76" fill="#111" stroke="#111" stroke-width="0.15">=</text>
<text x="29.13" y="0.00" font-family='"Liberation Serif",serif' font-size="14.20" fill="#111" stroke="#111" stroke-width="0.15">0</text></g>
<rect x="234.6" y="86.2" width="208.6" height="134.4" fill="#ffffff" stroke="#555" stroke-width="1"/>
<g transform="translate(256.70,103.40)"><text x="0.00" y="0.00" font-family='"Liberation Serif",serif' font-size="14.10" font-style="italic" fill="#ee3124" stroke="#ee3124" stroke-width="0.15">H</text>
<text x="10.18" y="3.10" font-family='"Liberation Serif",serif' font-size="9.87" font-style="italic" fill="#ee3124" stroke="#ee3124" stroke-width="0.15">int</text>
<text x="23.99" y="1.41" font-family='"Liberation Serif",serif' font-size="16.64" fill="#ee3124" stroke="#ee3124" stroke-width="0.15">=</text>
<text x="36.75" y="0.00" font-family='"Liberation Serif",serif' font-size="14.10" font-style="italic" fill="#ee3124" stroke="#ee3124" stroke-width="0.15">κ</text>
<text x="43.52" y="0.00" font-family='"Liberation Serif",serif' font-size="14.10" fill="#ee3124" stroke="#ee3124" stroke-width="0.15">(</text>
<text x="48.22" y="0.00" font-family='"Liberation Serif",serif' font-size="14.10" font-style="italic" fill="#ee3124" stroke="#ee3124" stroke-width="0.15">d</text>
<text x="58.65" y="1.41" font-family='"Liberation Serif",serif' font-size="16.64" fill="#ee3124" stroke="#ee3124" stroke-width="0.15">+</text>
<text x="71.42" y="0.00" font-family='"Liberation Serif",serif' font-size="14.10" font-style="italic" fill="#ee3124" stroke="#ee3124" stroke-width="0.15">z</text>
<text x="76.91" y="3.10" font-family='"Liberation Serif",serif' font-size="9.87" fill="#ee3124" stroke="#ee3124" stroke-width="0.15">2</text>
<text x="85.22" y="1.41" font-family='"Liberation Serif",serif' font-size="16.64" fill="#ee3124" stroke="#ee3124" stroke-width="0.15">−</text>
<text x="97.99" y="0.00" font-family='"Liberation Serif",serif' font-size="14.10" font-style="italic" fill="#ee3124" stroke="#ee3124" stroke-width="0.15">z</text>
<text x="103.48" y="3.10" font-family='"Liberation Serif",serif' font-size="9.87" fill="#ee3124" stroke="#ee3124" stroke-width="0.15">1</text>
<text x="108.41" y="0.00" font-family='"Liberation Serif",serif' font-size="14.10" fill="#ee3124" stroke="#ee3124" stroke-width="0.15">)</text>
<text x="113.41" y="-5.64" font-family='"Liberation Serif",serif' font-size="9.87" fill="#ee3124" stroke="#ee3124" stroke-width="0.15">−</text>
<text x="119.27" y="-5.64" font-family='"Liberation Serif",serif' font-size="9.87" fill="#ee3124" stroke="#ee3124" stroke-width="0.15">1/2</text></g>
<g transform="translate(262.00,128.60)"><text x="0.00" y="0.00" font-family='"Liberation Serif",serif' font-size="14.30" font-style="italic" fill="#3b7ea9" stroke="#3b7ea9" stroke-width="0.15">H</text>
<text x="10.33" y="3.15" font-family='"Liberation Serif",serif' font-size="10.01" fill="#3b7ea9" stroke="#3b7ea9" stroke-width="0.15">1</text>
<text x="18.76" y="1.43" font-family='"Liberation Serif",serif' font-size="16.87" fill="#3b7ea9" stroke="#3b7ea9" stroke-width="0.15">=</text>
<text x="31.71" y="0.00" font-family='"Liberation Serif",serif' font-size="14.30" font-style="italic" fill="#3b7ea9" stroke="#3b7ea9" stroke-width="0.15">p</text>
<text x="38.86" y="3.15" font-family='"Liberation Serif",serif' font-size="10.01" fill="#3b7ea9" stroke="#3b7ea9" stroke-width="0.15">2</text>
<text x="38.86" y="-5.72" font-family='"Liberation Serif",serif' font-size="10.01" fill="#3b7ea9" stroke="#3b7ea9" stroke-width="0.15">2</text>
<text x="44.87" y="0.00" font-family='"Liberation Serif",serif' font-size="14.30" fill="#3b7ea9" stroke="#3b7ea9" stroke-width="0.15">/</text>
<text x="49.84" y="0.00" font-family='"Liberation Serif",serif' font-size="14.30" fill="#3b7ea9" stroke="#3b7ea9" stroke-width="0.15">2</text>
<text x="56.99" y="0.00" font-family='"Liberation Serif",serif' font-size="14.30" font-style="italic" fill="#3b7ea9" stroke="#3b7ea9" stroke-width="0.15">m</text>
<text x="67.32" y="3.15" font-family='"Liberation Serif",serif' font-size="10.01" fill="#3b7ea9" stroke="#3b7ea9" stroke-width="0.15">2</text>
<text x="75.76" y="1.43" font-family='"Liberation Serif",serif' font-size="16.87" fill="#3b7ea9" stroke="#3b7ea9" stroke-width="0.15">+</text>
<text x="88.71" y="0.00" font-family='"Liberation Serif",serif' font-size="14.30" font-style="italic" fill="#3b7ea9" stroke="#3b7ea9" stroke-width="0.15">m</text>
<text x="99.03" y="3.15" font-family='"Liberation Serif",serif' font-size="10.01" fill="#3b7ea9" stroke="#3b7ea9" stroke-width="0.15">2</text>
<text x="104.04" y="0.00" font-family='"Liberation Serif",serif' font-size="14.30" font-style="italic" fill="#3b7ea9" stroke="#3b7ea9" stroke-width="0.15">ω</text>
<text x="114.14" y="3.15" font-family='"Liberation Serif",serif' font-size="10.01" fill="#3b7ea9" stroke="#3b7ea9" stroke-width="0.15">2</text>
<text x="114.14" y="-5.72" font-family='"Liberation Serif",serif' font-size="10.01" fill="#3b7ea9" stroke="#3b7ea9" stroke-width="0.15">2</text>
<text x="119.14" y="0.00" font-family='"Liberation Serif",serif' font-size="14.30" font-style="italic" fill="#3b7ea9" stroke="#3b7ea9" stroke-width="0.15">z</text>
<text x="124.70" y="3.15" font-family='"Liberation Serif",serif' font-size="10.01" fill="#3b7ea9" stroke="#3b7ea9" stroke-width="0.15">2</text>
<text x="124.70" y="-5.72" font-family='"Liberation Serif",serif' font-size="10.01" fill="#3b7ea9" stroke="#3b7ea9" stroke-width="0.15">2</text>
<text x="130.71" y="0.00" font-family='"Liberation Serif",serif' font-size="14.30" fill="#3b7ea9" stroke="#3b7ea9" stroke-width="0.15">/</text>
<text x="135.68" y="0.00" font-family='"Liberation Serif",serif' font-size="14.30" fill="#3b7ea9" stroke="#3b7ea9" stroke-width="0.15">2</text></g>
<g transform="translate(262.00,154.80)"><text x="0.00" y="0.00" font-family='"Liberation Serif",serif' font-size="14.20" font-style="italic" fill="#eea320" stroke="#eea320" stroke-width="0.15">H</text>
<text x="10.26" y="3.12" font-family='"Liberation Serif",serif' font-size="9.94" fill="#eea320" stroke="#eea320" stroke-width="0.15">2</text>
<text x="18.63" y="1.42" font-family='"Liberation Serif",serif' font-size="16.76" fill="#eea320" stroke="#eea320" stroke-width="0.15">=</text>
<text x="31.49" y="0.00" font-family='"Liberation Serif",serif' font-size="14.20" font-style="italic" fill="#eea320" stroke="#eea320" stroke-width="0.15">p</text>
<text x="38.59" y="3.12" font-family='"Liberation Serif",serif' font-size="9.94" fill="#eea320" stroke="#eea320" stroke-width="0.15">1</text>
<text x="38.59" y="-5.68" font-family='"Liberation Serif",serif' font-size="9.94" fill="#eea320" stroke="#eea320" stroke-width="0.15">2</text>
<text x="44.56" y="0.00" font-family='"Liberation Serif",serif' font-size="14.20" fill="#eea320" stroke="#eea320" stroke-width="0.15">/</text>
<text x="49.49" y="0.00" font-family='"Liberation Serif",serif' font-size="14.20" fill="#eea320" stroke="#eea320" stroke-width="0.15">2</text>
<text x="56.59" y="0.00" font-family='"Liberation Serif",serif' font-size="14.20" font-style="italic" fill="#eea320" stroke="#eea320" stroke-width="0.15">m</text>
<text x="66.85" y="3.12" font-family='"Liberation Serif",serif' font-size="9.94" fill="#eea320" stroke="#eea320" stroke-width="0.15">1</text>
<text x="75.23" y="1.42" font-family='"Liberation Serif",serif' font-size="16.76" fill="#eea320" stroke="#eea320" stroke-width="0.15">+</text>
<text x="88.09" y="0.00" font-family='"Liberation Serif",serif' font-size="14.20" font-style="italic" fill="#eea320" stroke="#eea320" stroke-width="0.15">m</text>
<text x="98.34" y="3.12" font-family='"Liberation Serif",serif' font-size="9.94" fill="#eea320" stroke="#eea320" stroke-width="0.15">1</text>
<text x="103.31" y="0.00" font-family='"Liberation Serif",serif' font-size="14.20" font-style="italic" fill="#eea320" stroke="#eea320" stroke-width="0.15">ω</text>
<text x="113.34" y="3.12" font-family='"Liberation Serif",serif' font-size="9.94" fill="#eea320" stroke="#eea320" stroke-width="0.15">1</text>
<text x="113.34" y="-5.68" font-family='"Liberation Serif",serif' font-size="9.94" fill="#eea320" stroke="#eea320" stroke-width="0.15">2</text>
<text x="118.31" y="0.00" font-family='"Liberation Serif",serif' font-size="14.20" font-style="italic" fill="#eea320" stroke="#eea320" stroke-width="0.15">z</text>
<text x="123.83" y="3.12" font-family='"Liberation Serif",serif' font-size="9.94" fill="#eea320" stroke="#eea320" stroke-width="0.15">1</text>
<text x="123.83" y="-5.68" font-family='"Liberation Serif",serif' font-size="9.94" fill="#eea320" stroke="#eea320" stroke-width="0.15">2</text>
<text x="129.80" y="0.00" font-family='"Liberation Serif",serif' font-size="14.20" fill="#eea320" stroke="#eea320" stroke-width="0.15">/</text>
<text x="134.74" y="0.00" font-family='"Liberation Serif",serif' font-size="14.20" fill="#eea320" stroke="#eea320" stroke-width="0.15">2</text></g>
<g transform="translate(245.00,183.30)"><text x="0.00" y="0.00" font-family='"Liberation Serif",serif' font-size="14.00" font-style="italic" fill="#2f7d33" stroke="#2f7d33" stroke-width="0.15">H</text>
<text x="10.11" y="3.08" font-family='"Liberation Serif",serif' font-size="9.80" fill="#2f7d33" stroke="#2f7d33" stroke-width="0.15">comp</text>
<text x="35.24" y="1.40" font-family='"Liberation Serif",serif' font-size="16.52" fill="#2f7d33" stroke="#2f7d33" stroke-width="0.15">=</text>
<text x="52.68" y="0.00" font-family='"Liberation Serif",serif' font-size="14.00" font-style="italic" fill="#2f7d33" stroke="#2f7d33" stroke-width="0.15">b</text>
<text x="59.68" y="0.00" font-family='"Liberation Serif",serif' font-size="14.00" fill="#2f7d33" stroke="#2f7d33" stroke-width="0.15">(</text>
<text x="64.34" y="0.00" font-family='"Liberation Serif",serif' font-size="14.00" font-style="italic" fill="#2f7d33" stroke="#2f7d33" stroke-width="0.15">z</text>
<text x="69.79" y="3.08" font-family='"Liberation Serif",serif' font-size="9.80" fill="#2f7d33" stroke="#2f7d33" stroke-width="0.15">2</text>
<text x="78.05" y="1.40" font-family='"Liberation Serif",serif' font-size="16.52" fill="#2f7d33" stroke="#2f7d33" stroke-width="0.15">−</text>
<text x="90.73" y="0.00" font-family='"Liberation Serif",serif' font-size="14.00" font-style="italic" fill="#2f7d33" stroke="#2f7d33" stroke-width="0.15">z</text>
<text x="96.18" y="3.08" font-family='"Liberation Serif",serif' font-size="9.80" fill="#2f7d33" stroke="#2f7d33" stroke-width="0.15">1</text>
<text x="101.08" y="0.00" font-family='"Liberation Serif",serif' font-size="14.00" fill="#2f7d33" stroke="#2f7d33" stroke-width="0.15">)</text>
<text x="113.02" y="1.40" font-family='"Liberation Serif",serif' font-size="16.52" fill="#2f7d33" stroke="#2f7d33" stroke-width="0.15">+</text>
<text x="129.62" y="0.00" font-family='"Liberation Serif",serif' font-size="14.00" font-style="italic" fill="#2f7d33" stroke="#2f7d33" stroke-width="0.15">a</text>
<text x="136.62" y="0.00" font-family='"Liberation Serif",serif' font-size="14.00" fill="#2f7d33" stroke="#2f7d33" stroke-width="0.15">(</text>
<text x="141.28" y="0.00" font-family='"Liberation Serif",serif' font-size="14.00" font-style="italic" fill="#2f7d33" stroke="#2f7d33" stroke-width="0.15">z</text>
<text x="146.73" y="3.08" font-family='"Liberation Serif",serif' font-size="9.80" fill="#2f7d33" stroke="#2f7d33" stroke-width="0.15">2</text>
<text x="154.99" y="1.40" font-family='"Liberation Serif",serif' font-size="16.52" fill="#2f7d33" stroke="#2f7d33" stroke-width="0.15">−</text>
<text x="167.66" y="0.00" font-family='"Liberation Serif",serif' font-size="14.00" font-style="italic" fill="#2f7d33" stroke="#2f7d33" stroke-width="0.15">z</text>
<text x="173.11" y="3.08" font-family='"Liberation Serif",serif' font-size="9.80" fill="#2f7d33" stroke="#2f7d33" stroke-width="0.15">1</text>
<text x="178.01" y="0.00" font-family='"Liberation Serif",serif' font-size="14.00" fill="#2f7d33" stroke="#2f7d33" stroke-width="0.15">)</text>
<text x="182.67" y="-5.60" font-family='"Liberation Serif",serif' font-size="9.80" fill="#2f7d33" stroke="#2f7d33" stroke-width="0.15">2</text></g>
<g transform="translate(256.00,210.40)"><text x="0.00" y="0.00" font-family='"Liberation Serif",serif' font-size="14.20" font-style="italic" fill="#111" stroke="#111" stroke-width="0.15">H</text>
<text x="10.26" y="3.12" font-family='"Liberation Serif",serif' font-size="9.94" font-style="italic" fill="#111" stroke="#111" stroke-width="0.15">tot</text></g>
<g transform="translate(277.20,210.40)"><text x="3.41" y="1.42" font-family='"Liberation Serif",serif' font-size="16.76" fill="#111" stroke="#111" stroke-width="0.15">=</text></g>
<g transform="translate(293.20,210.40)"><text x="0.00" y="0.00" font-family='"Liberation Serif",serif' font-size="14.20" font-style="italic" fill="#3b7ea9" stroke="#3b7ea9" stroke-width="0.15">H</text>
<text x="10.26" y="3.12" font-family='"Liberation Serif",serif' font-size="9.94" fill="#3b7ea9" stroke="#3b7ea9" stroke-width="0.15">1</text></g>
<g transform="translate(308.40,210.40)"><text x="3.41" y="1.42" font-family='"Liberation Serif",serif' font-size="16.76" fill="#111" stroke="#111" stroke-width="0.15">+</text></g>
<g transform="translate(330.80,210.40)"><text x="0.00" y="0.00" font-family='"Liberation Serif",serif' font-size="14.20" font-style="italic" fill="#eea320" stroke="#eea320" stroke-width="0.15">H</text>
<text x="10.26" y="3.12" font-family='"Liberation Serif",serif' font-size="9.94" fill="#eea320" stroke="#eea320" stroke-width="0.15">2</text></g>
<g transform="translate(346.00,210.40)"><text x="3.41" y="1.42" font-family='"Liberation Serif",serif' font-size="16.76" fill="#111" stroke="#111" stroke-width="0.15">+</text></g>
<g transform="translate(367.00,210.40)"><text x="0.00" y="0.00" font-family='"Liberation Serif",serif' font-size="14.20" font-style="italic" fill="#ee3124" stroke="#ee3124" stroke-width="0.15">H</text>
<text x="10.26" y="3.12" font-family='"Liberation Serif",serif' font-size="9.94" font-style="italic" fill="#ee3124" stroke="#ee3124" stroke-width="0.15">int</text></g>
<g transform="translate(386.30,210.40)"><text x="3.41" y="1.42" font-family='"Liberation Serif",serif' font-size="16.76" fill="#111" stroke="#111" stroke-width="0.15">+</text></g>
<g transform="translate(404.60,210.40)"><text x="0.00" y="0.00" font-family='"Liberation Serif",serif' font-size="14.20" font-style="italic" fill="#2f7d33" stroke="#2f7d33" stroke-width="0.15">H</text>
<text x="10.26" y="3.12" font-family='"Liberation Serif",serif' font-size="9.94" font-style="italic" fill="#2f7d33" stroke="#2f7d33" stroke-width="0.15">comp</text></g>
<defs>
<linearGradient id="gr" x1="0" x2="1" y1="0" y2="0"><stop offset="0" stop-color="#ee2a1a"/><stop offset="0.45" stop-color="#cf2f2c"/><stop offset="1" stop-color="#a4344a"/></linearGradient>
<linearGradient id="gb" x1="0" x2="1" y1="0" y2="0"><stop offset="0" stop-color="#464f82"/><stop offset="0.5" stop-color="#3f6aa6"/><stop offset="1" stop-color="#3a84c6"/></linearGradient>
</defs>
<rect x="2" y="279" width="226" height="21" fill="url(#gr)"/>
<rect x="449" y="279" width="226" height="21" fill="url(#gb)"/>
<text x="13.2" y="294.3" font-family='"Liberation Sans",Arial,sans-serif' font-size="16.6" font-weight="bold" fill="#fff">Classical Noise</text>
<text x="459.5" y="294.3" font-family='"Liberation Sans",Arial,sans-serif' font-size="16.6" font-weight="bold" fill="#fff">Quantum Uncertainty</text>
<rect x="227.8" y="254.4" width="221.6" height="66.4" fill="#ffffff" stroke="#4c5563" stroke-width="1.1"/>
<text x="232" y="268.4" font-family='"Liberation Sans",Arial,sans-serif' font-size="11" font-weight="bold" fill="#5f7488">Symmetric</text>
<text x="232" y="293.3" font-family='"Liberation Sans",Arial,sans-serif' font-size="11" font-weight="bold" fill="#f0703c">Tuning Mass</text>
<text x="231" y="318.2" font-family='"Liberation Sans",Arial,sans-serif' font-size="11" font-weight="bold" fill="#1a12f0">Tuning Frequency</text>
<g transform="translate(333.30,268.00)"><text x="0.00" y="0.00" font-family='"Liberation Serif",serif' font-size="10.40" font-style="italic" fill="#5f7488" stroke="#5f7488" stroke-width="0.15">m</text>
<text x="8.18" y="2.29" font-family='"Liberation Serif",serif' font-size="7.28" fill="#5f7488" stroke="#5f7488" stroke-width="0.15">1</text>
<text x="12.94" y="0.00" font-family='"Liberation Serif",serif' font-size="10.40" fill="#5f7488" stroke="#5f7488" stroke-width="0.15">/</text>
<text x="16.88" y="0.00" font-family='"Liberation Serif",serif' font-size="10.40" font-style="italic" fill="#5f7488" stroke="#5f7488" stroke-width="0.15">m</text>
<text x="25.06" y="2.29" font-family='"Liberation Serif",serif' font-size="7.28" fill="#5f7488" stroke="#5f7488" stroke-width="0.15">2</text>
<text x="31.75" y="1.04" font-family='"Liberation Serif",serif' font-size="12.27" fill="#5f7488" stroke="#5f7488" stroke-width="0.15">=</text>
<text x="42.00" y="0.00" font-family='"Liberation Serif",serif' font-size="10.40" fill="#5f7488" stroke="#5f7488" stroke-width="0.15">1,</text></g>
<g transform="translate(393.50,268.00)"><text x="0.00" y="0.00" font-family='"Liberation Serif",serif' font-size="10.40" font-style="italic" fill="#5f7488" stroke="#5f7488" stroke-width="0.15">ω</text>
<text x="7.78" y="2.29" font-family='"Liberation Serif",serif' font-size="7.28" fill="#5f7488" stroke="#5f7488" stroke-width="0.15">1</text>
<text x="12.41" y="0.00" font-family='"Liberation Serif",serif' font-size="10.40" fill="#5f7488" stroke="#5f7488" stroke-width="0.15">/</text>
<text x="16.24" y="0.00" font-family='"Liberation Serif",serif' font-size="10.40" font-style="italic" fill="#5f7488" stroke="#5f7488" stroke-width="0.15">ω</text>
<text x="24.02" y="2.29" font-family='"Liberation Serif",serif' font-size="7.28" fill="#5f7488" stroke="#5f7488" stroke-width="0.15">2</text>
<text x="30.52" y="1.04" font-family='"Liberation Serif",serif' font-size="12.27" fill="#5f7488" stroke="#5f7488" stroke-width="0.15">=</text>
<text x="40.49" y="0.00" font-family='"Liberation Serif",serif' font-size="10.40" fill="#5f7488" stroke="#5f7488" stroke-width="0.15">1</text></g>
<g transform="translate(330.80,291.20)"><text x="0.00" y="0.00" font-family='"Liberation Serif",serif' font-size="10.40" font-style="italic" fill="#f0703c" stroke="#f0703c" stroke-width="0.15">m</text>
<text x="8.16" y="2.29" font-family='"Liberation Serif",serif' font-size="7.28" fill="#f0703c" stroke="#f0703c" stroke-width="0.15">1</text>
<text x="12.90" y="0.00" font-family='"Liberation Serif",serif' font-size="10.40" fill="#f0703c" stroke="#f0703c" stroke-width="0.15">/</text>
<text x="16.83" y="0.00" font-family='"Liberation Serif",serif' font-size="10.40" font-style="italic" fill="#f0703c" stroke="#f0703c" stroke-width="0.15">m</text>
<text x="24.99" y="2.29" font-family='"Liberation Serif",serif' font-size="7.28" fill="#f0703c" stroke="#f0703c" stroke-width="0.15">2</text>
<text x="31.65" y="1.04" font-family='"Liberation Serif",serif' font-size="12.27" fill="#f0703c" stroke="#f0703c" stroke-width="0.15">=</text>
<text x="41.88" y="0.00" font-family='"Liberation Serif",serif' font-size="10.40" fill="#f0703c" stroke="#f0703c" stroke-width="0.15">10,</text></g>
<g transform="translate(393.50,290.60)"><text x="0.00" y="0.00" font-family='"Liberation Serif",serif' font-size="10.40" font-style="italic" fill="#f0703c" stroke="#f0703c" stroke-width="0.15">ω</text>
<text x="7.78" y="2.29" font-family='"Liberation Serif",serif' font-size="7.28" fill="#f0703c" stroke="#f0703c" stroke-width="0.15">1</text>
<text x="12.41" y="0.00" font-family='"Liberation Serif",serif' font-size="10.40" fill="#f0703c" stroke="#f0703c" stroke-width="0.15">/</text>
<text x="16.24" y="0.00" font-family='"Liberation Serif",serif' font-size="10.40" font-style="italic" fill="#f0703c" stroke="#f0703c" stroke-width="0.15">ω</text>
<text x="24.02" y="2.29" font-family='"Liberation Serif",serif' font-size="7.28" fill="#f0703c" stroke="#f0703c" stroke-width="0.15">2</text>
<text x="30.52" y="1.04" font-family='"Liberation Serif",serif' font-size="12.27" fill="#f0703c" stroke="#f0703c" stroke-width="0.15">=</text>
<text x="40.49" y="0.00" font-family='"Liberation Serif",serif' font-size="10.40" fill="#f0703c" stroke="#f0703c" stroke-width="0.15">1</text></g>
<g transform="translate(333.30,315.60)"><text x="0.00" y="0.00" font-family='"Liberation Serif",serif' font-size="10.40" font-style="italic" fill="#1a12f0" stroke="#1a12f0" stroke-width="0.15">m</text>
<text x="8.18" y="2.29" font-family='"Liberation Serif",serif' font-size="7.28" fill="#1a12f0" stroke="#1a12f0" stroke-width="0.15">1</text>
<text x="12.94" y="0.00" font-family='"Liberation Serif",serif' font-size="10.40" fill="#1a12f0" stroke="#1a12f0" stroke-width="0.15">/</text>
<text x="16.88" y="0.00" font-family='"Liberation Serif",serif' font-size="10.40" font-style="italic" fill="#1a12f0" stroke="#1a12f0" stroke-width="0.15">m</text>
<text x="25.06" y="2.29" font-family='"Liberation Serif",serif' font-size="7.28" fill="#1a12f0" stroke="#1a12f0" stroke-width="0.15">2</text>
<text x="31.75" y="1.04" font-family='"Liberation Serif",serif' font-size="12.27" fill="#1a12f0" stroke="#1a12f0" stroke-width="0.15">=</text>
<text x="42.00" y="0.00" font-family='"Liberation Serif",serif' font-size="10.40" fill="#1a12f0" stroke="#1a12f0" stroke-width="0.15">1,</text></g>
<g transform="translate(390.60,313.00)"><text x="0.00" y="0.00" font-family='"Liberation Serif",serif' font-size="10.40" font-style="italic" fill="#1a12f0" stroke="#1a12f0" stroke-width="0.15">ω</text>
<text x="7.91" y="2.29" font-family='"Liberation Serif",serif' font-size="7.28" fill="#1a12f0" stroke="#1a12f0" stroke-width="0.15">1</text>
<text x="12.62" y="0.00" font-family='"Liberation Serif",serif' font-size="10.40" fill="#1a12f0" stroke="#1a12f0" stroke-width="0.15">/</text>
<text x="16.52" y="0.00" font-family='"Liberation Serif",serif' font-size="10.40" font-style="italic" fill="#1a12f0" stroke="#1a12f0" stroke-width="0.15">ω</text>
<text x="24.43" y="2.29" font-family='"Liberation Serif",serif' font-size="7.28" fill="#1a12f0" stroke="#1a12f0" stroke-width="0.15">2</text>
<text x="31.04" y="1.04" font-family='"Liberation Serif",serif' font-size="12.27" fill="#1a12f0" stroke="#1a12f0" stroke-width="0.15">=</text>
<text x="41.19" y="0.00" font-family='"Liberation Serif",serif' font-size="10.40" fill="#1a12f0" stroke="#1a12f0" stroke-width="0.15">50</text></g>
<g transform="translate(18.00,359.60)"><text x="0.00" y="0.00" font-family='"Liberation Serif",serif' font-size="18.50" font-style="italic" fill="#e5291f" stroke="#e5291f" stroke-width="0.15">b</text>
<text x="14.43" y="0.00" font-family='"Liberation Serif",serif' font-size="18.50" fill="#e5291f" stroke="#e5291f" stroke-width="0.15">(</text>
<text x="20.59" y="0.00" font-family='"Liberation Serif",serif' font-size="18.50" font-style="italic" fill="#e5291f" stroke="#e5291f" stroke-width="0.15">i</text>
<text x="25.73" y="0.00" font-family='"Liberation Serif",serif' font-size="18.50" fill="#e5291f" stroke="#e5291f" stroke-width="0.15">)</text></g>
<text x="57.7" y="346.3" font-family='"Liberation Sans",Arial,sans-serif' font-size="16.6" font-weight="bold" fill="#e5291f">Noise-Induced</text>
<text x="57.7" y="364.9" font-family='"Liberation Sans",Arial,sans-serif' font-size="16.6" font-weight="bold" fill="#e5291f">Stochastic Momentum</text>
<g transform="translate(418.20,358.60)"><text x="0.00" y="0.00" font-family='"Liberation Serif",serif' font-size="18.50" font-style="italic" fill="#3a79b9" stroke="#3a79b9" stroke-width="0.15">b</text>
<text x="14.43" y="0.00" font-family='"Liberation Serif",serif' font-size="18.50" fill="#3a79b9" stroke="#3a79b9" stroke-width="0.15">(</text>
<text x="20.59" y="0.00" font-family='"Liberation Serif",serif' font-size="18.50" font-style="italic" fill="#3a79b9" stroke="#3a79b9" stroke-width="0.15">ii</text>
<text x="30.87" y="0.00" font-family='"Liberation Serif",serif' font-size="18.50" fill="#3a79b9" stroke="#3a79b9" stroke-width="0.15">)</text></g>
<text x="459.7" y="345.8" font-family='"Liberation Sans",Arial,sans-serif' font-size="16.6" font-weight="bold" fill="#3a79b9">Uncertainty-Induced</text>
<text x="459.7" y="365.3" font-family='"Liberation Sans",Arial,sans-serif' font-size="16.6" font-weight="bold" fill="#3a79b9">Quantum Momentum</text>
<rect x="61.1" y="378.1" width="182.9" height="80.19999999999999" fill="#fff" stroke="#555" stroke-width="1"/>
<clipPath id="c1"><rect x="60.6" y="378.1" width="183.9" height="80.79999999999998"/></clipPath><g clip-path="url(#c1)">
<path d="M61.30,458.20 L70.49,458.16 L79.68,458.05 L88.87,457.86 L98.06,457.59 L107.25,457.25 L116.44,456.83 L125.63,456.34 L134.82,455.77 L144.01,455.13 L153.20,454.40 L162.39,453.61 L171.58,452.74 L180.77,451.79 L189.96,450.76 L199.15,449.66 L208.34,448.48 L217.53,447.23 L226.72,445.90 L235.91,444.50" fill="none" stroke="#6b7f8e" stroke-width="0.7" stroke-opacity="0.45"/>
<ellipse cx="61.30" cy="458.20" rx="2.55" ry="3.7499999999999996" fill="#fff" fill-opacity="0.85" stroke="#6b7f8e" stroke-width="1.1"/>
<ellipse cx="70.49" cy="458.16" rx="2.55" ry="3.7499999999999996" fill="#fff" fill-opacity="0.85" stroke="#6b7f8e" stroke-width="1.1"/>
<ellipse cx="79.68" cy="458.05" rx="2.55" ry="3.7499999999999996" fill="#fff" fill-opacity="0.85" stroke="#6b7f8e" stroke-width="1.1"/>
<ellipse cx="88.87" cy="457.86" rx="2.55" ry="3.7499999999999996" fill="#fff" fill-opacity="0.85" stroke="#6b7f8e" stroke-width="1.1"/>
<ellipse cx="98.06" cy="457.59" rx="2.55" ry="3.7499999999999996" fill="#fff" fill-opacity="0.85" stroke="#6b7f8e" stroke-width="1.1"/>
<ellipse cx="107.25" cy="457.25" rx="2.55" ry="3.7499999999999996" fill="#fff" fill-opacity="0.85" stroke="#6b7f8e" stroke-width="1.1"/>
<ellipse cx="116.44" cy="456.83" rx="2.55" ry="3.7499999999999996" fill="#fff" fill-opacity="0.85" stroke="#6b7f8e" stroke-width="1.1"/>
<ellipse cx="125.63" cy="456.34" rx="2.55" ry="3.7499999999999996" fill="#fff" fill-opacity="0.85" stroke="#6b7f8e" stroke-width="1.1"/>
<ellipse cx="134.82" cy="455.77" rx="2.55" ry="3.7499999999999996" fill="#fff" fill-opacity="0.85" stroke="#6b7f8e" stroke-width="1.1"/>
<ellipse cx="144.01" cy="455.13" rx="2.55" ry="3.7499999999999996" fill="#fff" fill-opacity="0.85" stroke="#6b7f8e" stroke-width="1.1"/>
<ellipse cx="153.20" cy="454.40" rx="2.55" ry="3.7499999999999996" fill="#fff" fill-opacity="0.85" stroke="#6b7f8e" stroke-width="1.1"/>
<ellipse cx="162.39" cy="453.61" rx="2.55" ry="3.7499999999999996" fill="#fff" fill-opacity="0.85" stroke="#6b7f8e" stroke-width="1.1"/>
<ellipse cx="171.58" cy="452.74" rx="2.55" ry="3.7499999999999996" fill="#fff" fill-opacity="0.85" stroke="#6b7f8e" stroke-width="1.1"/>
<ellipse cx="180.77" cy="451.79" rx="2.55" ry="3.7499999999999996" fill="#fff" fill-opacity="0.85" stroke="#6b7f8e" stroke-width="1.1"/>
<ellipse cx="189.96" cy="450.76" rx="2.55" ry="3.7499999999999996" fill="#fff" fill-opacity="0.85" stroke="#6b7f8e" stroke-width="1.1"/>
<ellipse cx="199.15" cy="449.66" rx="2.55" ry="3.7499999999999996" fill="#fff" fill-opacity="0.85" stroke="#6b7f8e" stroke-width="1.1"/>
<ellipse cx="208.34" cy="448.48" rx="2.55" ry="3.7499999999999996" fill="#fff" fill-opacity="0.85" stroke="#6b7f8e" stroke-width="1.1"/>
<ellipse cx="217.53" cy="447.23" rx="2.55" ry="3.7499999999999996" fill="#fff" fill-opacity="0.85" stroke="#6b7f8e" stroke-width="1.1"/>
<ellipse cx="226.72" cy="445.90" rx="2.55" ry="3.7499999999999996" fill="#fff" fill-opacity="0.85" stroke="#6b7f8e" stroke-width="1.1"/>
<ellipse cx="235.91" cy="444.50" rx="2.55" ry="3.7499999999999996" fill="#fff" fill-opacity="0.85" stroke="#6b7f8e" stroke-width="1.1"/>
<path d="M61.30,458.20 L70.49,458.05 L79.68,457.86 L88.87,457.65 L98.06,457.43 L107.25,457.19 L116.44,456.95 L125.63,456.69 L134.82,456.43 L144.01,456.16 L153.20,455.89 L162.39,455.61 L171.58,455.32 L180.77,455.03 L189.96,454.73 L199.15,454.43 L208.34,454.13 L217.53,453.82 L226.72,453.51 L235.91,453.20" fill="none" stroke="#f0784f" stroke-width="0.7" stroke-opacity="0.45"/>
<ellipse cx="61.30" cy="458.20" rx="2.55" ry="3.7499999999999996" fill="#fff" fill-opacity="0.85" stroke="#f0784f" stroke-width="1.1"/>
<ellipse cx="70.49" cy="458.05" rx="2.55" ry="3.7499999999999996" fill="#fff" fill-opacity="0.85" stroke="#f0784f" stroke-width="1.1"/>
<ellipse cx="79.68" cy="457.86" rx="2.55" ry="3.7499999999999996" fill="#fff" fill-opacity="0.85" stroke="#f0784f" stroke-width="1.1"/>
<ellipse cx="88.87" cy="457.65" rx="2.55" ry="3.7499999999999996" fill="#fff" fill-opacity="0.85" stroke="#f0784f" stroke-width="1.1"/>
<ellipse cx="98.06" cy="457.43" rx="2.55" ry="3.7499999999999996" fill="#fff" fill-opacity="0.85" stroke="#f0784f" stroke-width="1.1"/>
<ellipse cx="107.25" cy="457.19" rx="2.55" ry="3.7499999999999996" fill="#fff" fill-opacity="0.85" stroke="#f0784f" stroke-width="1.1"/>
<ellipse cx="116.44" cy="456.95" rx="2.55" ry="3.7499999999999996" fill="#fff" fill-opacity="0.85" stroke="#f0784f" stroke-width="1.1"/>
<ellipse cx="125.63" cy="456.69" rx="2.55" ry="3.7499999999999996" fill="#fff" fill-opacity="0.85" stroke="#f0784f" stroke-width="1.1"/>
<ellipse cx="134.82" cy="456.43" rx="2.55" ry="3.7499999999999996" fill="#fff" fill-opacity="0.85" stroke="#f0784f" stroke-width="1.1"/>
<ellipse cx="144.01" cy="456.16" rx="2.55" ry="3.7499999999999996" fill="#fff" fill-opacity="0.85" stroke="#f0784f" stroke-width="1.1"/>
<ellipse cx="153.20" cy="455.89" rx="2.55" ry="3.7499999999999996" fill="#fff" fill-opacity="0.85" stroke="#f0784f" stroke-width="1.1"/>
<ellipse cx="162.39" cy="455.61" rx="2.55" ry="3.7499999999999996" fill="#fff" fill-opacity="0.85" stroke="#f0784f" stroke-width="1.1"/>
<ellipse cx="171.58" cy="455.32" rx="2.55" ry="3.7499999999999996" fill="#fff" fill-opacity="0.85" stroke="#f0784f" stroke-width="1.1"/>
<ellipse cx="180.77" cy="455.03" rx="2.55" ry="3.7499999999999996" fill="#fff" fill-opacity="0.85" stroke="#f0784f" stroke-width="1.1"/>
<ellipse cx="189.96" cy="454.73" rx="2.55" ry="3.7499999999999996" fill="#fff" fill-opacity="0.85" stroke="#f0784f" stroke-width="1.1"/>
<ellipse cx="199.15" cy="454.43" rx="2.55" ry="3.7499999999999996" fill="#fff" fill-opacity="0.85" stroke="#f0784f" stroke-width="1.1"/>
<ellipse cx="208.34" cy="454.13" rx="2.55" ry="3.7499999999999996" fill="#fff" fill-opacity="0.85" stroke="#f0784f" stroke-width="1.1"/>
<ellipse cx="217.53" cy="453.82" rx="2.55" ry="3.7499999999999996" fill="#fff" fill-opacity="0.85" stroke="#f0784f" stroke-width="1.1"/>
<ellipse cx="226.72" cy="453.51" rx="2.55" ry="3.7499999999999996" fill="#fff" fill-opacity="0.85" stroke="#f0784f" stroke-width="1.1"/>
<ellipse cx="235.91" cy="453.20" rx="2.55" ry="3.7499999999999996" fill="#fff" fill-opacity="0.85" stroke="#f0784f" stroke-width="1.1"/>
<path d="M61.30,458.20 L70.49,458.16 L79.68,458.10 L88.87,458.04 L98.06,457.97 L107.25,457.90 L116.44,457.82 L125.63,457.75 L134.82,457.67 L144.01,457.59 L153.20,457.51 L162.39,457.42 L171.58,457.34 L180.77,457.25 L189.96,457.16 L199.15,457.07 L208.34,456.98 L217.53,456.89 L226.72,456.79 L235.91,456.70" fill="none" stroke="#1c0cff" stroke-width="0.7" stroke-opacity="0.45"/>
<ellipse cx="61.30" cy="458.20" rx="2.55" ry="3.7499999999999996" fill="#fff" fill-opacity="0.85" stroke="#1c0cff" stroke-width="1.1"/>
<ellipse cx="70.49" cy="458.16" rx="2.55" ry="3.7499999999999996" fill="#fff" fill-opacity="0.85" stroke="#1c0cff" stroke-width="1.1"/>
<ellipse cx="79.68" cy="458.10" rx="2.55" ry="3.7499999999999996" fill="#fff" fill-opacity="0.85" stroke="#1c0cff" stroke-width="1.1"/>
<ellipse cx="88.87" cy="458.04" rx="2.55" ry="3.7499999999999996" fill="#fff" fill-opacity="0.85" stroke="#1c0cff" stroke-width="1.1"/>
<ellipse cx="98.06" cy="457.97" rx="2.55" ry="3.7499999999999996" fill="#fff" fill-opacity="0.85" stroke="#1c0cff" stroke-width="1.1"/>
<ellipse cx="107.25" cy="457.90" rx="2.55" ry="3.7499999999999996" fill="#fff" fill-opacity="0.85" stroke="#1c0cff" stroke-width="1.1"/>
<ellipse cx="116.44" cy="457.82" rx="2.55" ry="3.7499999999999996" fill="#fff" fill-opacity="0.85" stroke="#1c0cff" stroke-width="1.1"/>
<ellipse cx="125.63" cy="457.75" rx="2.55" ry="3.7499999999999996" fill="#fff" fill-opacity="0.85" stroke="#1c0cff" stroke-width="1.1"/>
<ellipse cx="134.82" cy="457.67" rx="2.55" ry="3.7499999999999996" fill="#fff" fill-opacity="0.85" stroke="#1c0cff" stroke-width="1.1"/>
<ellipse cx="144.01" cy="457.59" rx="2.55" ry="3.7499999999999996" fill="#fff" fill-opacity="0.85" stroke="#1c0cff" stroke-width="1.1"/>
<ellipse cx="153.20" cy="457.51" rx="2.55" ry="3.7499999999999996" fill="#fff" fill-opacity="0.85" stroke="#1c0cff" stroke-width="1.1"/>
<ellipse cx="162.39" cy="457.42" rx="2.55" ry="3.7499999999999996" fill="#fff" fill-opacity="0.85" stroke="#1c0cff" stroke-width="1.1"/>
<ellipse cx="171.58" cy="457.34" rx="2.55" ry="3.7499999999999996" fill="#fff" fill-opacity="0.85" stroke="#1c0cff" stroke-width="1.1"/>
<ellipse cx="180.77" cy="457.25" rx="2.55" ry="3.7499999999999996" fill="#fff" fill-opacity="0.85" stroke="#1c0cff" stroke-width="1.1"/>
<ellipse cx="189.96" cy="457.16" rx="2.55" ry="3.7499999999999996" fill="#fff" fill-opacity="0.85" stroke="#1c0cff" stroke-width="1.1"/>
<ellipse cx="199.15" cy="457.07" rx="2.55" ry="3.7499999999999996" fill="#fff" fill-opacity="0.85" stroke="#1c0cff" stroke-width="1.1"/>
<ellipse cx="208.34" cy="456.98" rx="2.55" ry="3.7499999999999996" fill="#fff" fill-opacity="0.85" stroke="#1c0cff" stroke-width="1.1"/>
<ellipse cx="217.53" cy="456.89" rx="2.55" ry="3.7499999999999996" fill="#fff" fill-opacity="0.85" stroke="#1c0cff" stroke-width="1.1"/>
<ellipse cx="226.72" cy="456.79" rx="2.55" ry="3.7499999999999996" fill="#fff" fill-opacity="0.85" stroke="#1c0cff" stroke-width="1.1"/>
<ellipse cx="235.91" cy="456.70" rx="2.55" ry="3.7499999999999996" fill="#fff" fill-opacity="0.85" stroke="#1c0cff" stroke-width="1.1"/>
<path d="M61.30,458.20 L70.49,455.02 L79.68,451.86 L88.87,448.75 L98.06,445.70 L107.25,442.73 L116.44,439.88 L125.63,437.14 L134.82,434.55 L144.01,432.12 L153.20,429.87 L162.39,427.82 L171.58,425.97 L180.77,424.34 L189.96,422.94 L199.15,421.79 L208.34,420.88 L217.53,420.23 L226.72,419.83 L235.91,419.70" fill="none" stroke="#6b7f8e" stroke-width="0.7" stroke-opacity="0.45"/>
<ellipse cx="61.30" cy="458.20" rx="2.9" ry="4.1" fill="#6b7f8e"/>
<ellipse cx="70.49" cy="455.02" rx="2.9" ry="4.1" fill="#6b7f8e"/>
<ellipse cx="79.68" cy="451.86" rx="2.9" ry="4.1" fill="#6b7f8e"/>
<ellipse cx="88.87" cy="448.75" rx="2.9" ry="4.1" fill="#6b7f8e"/>
<ellipse cx="98.06" cy="445.70" rx="2.9" ry="4.1" fill="#6b7f8e"/>
<ellipse cx="107.25" cy="442.73" rx="2.9" ry="4.1" fill="#6b7f8e"/>
<ellipse cx="116.44" cy="439.88" rx="2.9" ry="4.1" fill="#6b7f8e"/>
<ellipse cx="125.63" cy="437.14" rx="2.9" ry="4.1" fill="#6b7f8e"/>
<ellipse cx="134.82" cy="434.55" rx="2.9" ry="4.1" fill="#6b7f8e"/>
<ellipse cx="144.01" cy="432.12" rx="2.9" ry="4.1" fill="#6b7f8e"/>
<ellipse cx="153.20" cy="429.87" rx="2.9" ry="4.1" fill="#6b7f8e"/>
<ellipse cx="162.39" cy="427.82" rx="2.9" ry="4.1" fill="#6b7f8e"/>
<ellipse cx="171.58" cy="425.97" rx="2.9" ry="4.1" fill="#6b7f8e"/>
<ellipse cx="180.77" cy="424.34" rx="2.9" ry="4.1" fill="#6b7f8e"/>
<ellipse cx="189.96" cy="422.94" rx="2.9" ry="4.1" fill="#6b7f8e"/>
<ellipse cx="199.15" cy="421.79" rx="2.9" ry="4.1" fill="#6b7f8e"/>
<ellipse cx="208.34" cy="420.88" rx="2.9" ry="4.1" fill="#6b7f8e"/>
<ellipse cx="217.53" cy="420.23" rx="2.9" ry="4.1" fill="#6b7f8e"/>
<ellipse cx="226.72" cy="419.83" rx="2.9" ry="4.1" fill="#6b7f8e"/>
<ellipse cx="235.91" cy="419.70" rx="2.9" ry="4.1" fill="#6b7f8e"/>
<path d="M61.30,458.20 L70.49,451.40 L79.68,445.20 L88.87,438.70 L98.06,432.80 L107.25,426.50 L116.44,420.90 L125.63,415.30 L134.82,410.40 L144.01,405.70 L153.20,401.40 L162.39,397.50 L171.58,394.00 L180.77,391.00 L189.96,388.20 L199.15,386.10 L208.34,384.60 L217.53,383.70 L226.72,383.20 L235.91,382.90" fill="none" stroke="#f0784f" stroke-width="0.7" stroke-opacity="0.45"/>
<ellipse cx="61.30" cy="458.20" rx="2.9" ry="4.1" fill="#f0784f"/>
<ellipse cx="70.49" cy="451.40" rx="2.9" ry="4.1" fill="#f0784f"/>
<ellipse cx="79.68" cy="445.20" rx="2.9" ry="4.1" fill="#f0784f"/>
<ellipse cx="88.87" cy="438.70" rx="2.9" ry="4.1" fill="#f0784f"/>
<ellipse cx="98.06" cy="432.80" rx="2.9" ry="4.1" fill="#f0784f"/>
<ellipse cx="107.25" cy="426.50" rx="2.9" ry="4.1" fill="#f0784f"/>
<ellipse cx="116.44" cy="420.90" rx="2.9" ry="4.1" fill="#f0784f"/>
<ellipse cx="125.63" cy="415.30" rx="2.9" ry="4.1" fill="#f0784f"/>
<ellipse cx="134.82" cy="410.40" rx="2.9" ry="4.1" fill="#f0784f"/>
<ellipse cx="144.01" cy="405.70" rx="2.9" ry="4.1" fill="#f0784f"/>
<ellipse cx="153.20" cy="401.40" rx="2.9" ry="4.1" fill="#f0784f"/>
<ellipse cx="162.39" cy="397.50" rx="2.9" ry="4.1" fill="#f0784f"/>
<ellipse cx="171.58" cy="394.00" rx="2.9" ry="4.1" fill="#f0784f"/>
<ellipse cx="180.77" cy="391.00" rx="2.9" ry="4.1" fill="#f0784f"/>
<ellipse cx="189.96" cy="388.20" rx="2.9" ry="4.1" fill="#f0784f"/>
<ellipse cx="199.15" cy="386.10" rx="2.9" ry="4.1" fill="#f0784f"/>
<ellipse cx="208.34" cy="384.60" rx="2.9" ry="4.1" fill="#f0784f"/>
<ellipse cx="217.53" cy="383.70" rx="2.9" ry="4.1" fill="#f0784f"/>
<ellipse cx="226.72" cy="383.20" rx="2.9" ry="4.1" fill="#f0784f"/>
<ellipse cx="235.91" cy="382.90" rx="2.9" ry="4.1" fill="#f0784f"/>
<path d="M61.30,458.20 L70.49,456.76 L79.68,455.32 L88.87,453.88 L98.06,452.44 L107.25,451.00 L116.44,449.56 L125.63,448.12 L134.82,446.68 L144.01,445.24 L153.20,443.80 L162.39,442.36 L171.58,440.92 L180.77,439.48 L189.96,438.04 L199.15,436.60 L208.34,435.16 L217.53,433.72 L226.72,432.28 L235.91,430.84" fill="none" stroke="#1c0cff" stroke-width="0.7" stroke-opacity="0.45"/>
<ellipse cx="61.30" cy="458.20" rx="2.9" ry="4.1" fill="#1c0cff"/>
<ellipse cx="70.49" cy="456.76" rx="2.9" ry="4.1" fill="#1c0cff"/>
<ellipse cx="79.68" cy="455.32" rx="2.9" ry="4.1" fill="#1c0cff"/>
<ellipse cx="88.87" cy="453.88" rx="2.9" ry="4.1" fill="#1c0cff"/>
<ellipse cx="98.06" cy="452.44" rx="2.9" ry="4.1" fill="#1c0cff"/>
<ellipse cx="107.25" cy="451.00" rx="2.9" ry="4.1" fill="#1c0cff"/>
<ellipse cx="116.44" cy="449.56" rx="2.9" ry="4.1" fill="#1c0cff"/>
<ellipse cx="125.63" cy="448.12" rx="2.9" ry="4.1" fill="#1c0cff"/>
<ellipse cx="134.82" cy="446.68" rx="2.9" ry="4.1" fill="#1c0cff"/>
<ellipse cx="144.01" cy="445.24" rx="2.9" ry="4.1" fill="#1c0cff"/>
<ellipse cx="153.20" cy="443.80" rx="2.9" ry="4.1" fill="#1c0cff"/>
<ellipse cx="162.39" cy="442.36" rx="2.9" ry="4.1" fill="#1c0cff"/>
<ellipse cx="171.58" cy="440.92" rx="2.9" ry="4.1" fill="#1c0cff"/>
<ellipse cx="180.77" cy="439.48" rx="2.9" ry="4.1" fill="#1c0cff"/>
<ellipse cx="189.96" cy="438.04" rx="2.9" ry="4.1" fill="#1c0cff"/>
<ellipse cx="199.15" cy="436.60" rx="2.9" ry="4.1" fill="#1c0cff"/>
<ellipse cx="208.34" cy="435.16" rx="2.9" ry="4.1" fill="#1c0cff"/>
<ellipse cx="217.53" cy="433.72" rx="2.9" ry="4.1" fill="#1c0cff"/>
<ellipse cx="226.72" cy="432.28" rx="2.9" ry="4.1" fill="#1c0cff"/>
<ellipse cx="235.91" cy="430.84" rx="2.9" ry="4.1" fill="#1c0cff"/>
</g>
<line x1="61.1" y1="400.6" x2="63.6" y2="400.6" stroke="#555" stroke-width="0.8"/>
<text transform="translate(59.8,406.6) scale(1.08,1)" font-family='"Liberation Serif",serif' font-size="18" text-anchor="end" fill="#111" stroke="#111" stroke-width="0.25">10</text>
<text transform="translate(55.6,465.4) scale(1.08,1)" font-family='"Liberation Serif",serif' font-size="18" text-anchor="end" fill="#111" stroke="#111" stroke-width="0.25">0</text>
<rect x="63.4" y="479.3" width="180.7" height="79.09999999999997" fill="#fff" stroke="#555" stroke-width="1"/>
<clipPath id="c2"><rect x="62.9" y="479.3" width="181.7" height="79.69999999999996"/></clipPath><g clip-path="url(#c2)">
<path d="M63.40,558.30 L72.38,557.51 L81.36,555.93 L90.34,553.57 L99.32,550.41 L108.30,546.46 L117.28,542.52 L126.26,538.10 L135.24,533.05 L144.22,527.13 L153.20,522.79 L162.18,518.85 L171.16,515.69 L180.14,512.93 L189.12,510.57 L198.10,508.99 L207.08,507.80 L216.06,507.01 L225.04,506.62 L234.02,506.38" fill="none" stroke="#6b7f8e" stroke-width="0.7" stroke-opacity="0.45"/>
<ellipse cx="63.40" cy="558.30" rx="2.4499999999999997" ry="3.3" fill="#fff" fill-opacity="0.85" stroke="#6b7f8e" stroke-width="1.1"/>
<ellipse cx="72.38" cy="557.51" rx="2.4499999999999997" ry="3.3" fill="#fff" fill-opacity="0.85" stroke="#6b7f8e" stroke-width="1.1"/>
<ellipse cx="81.36" cy="555.93" rx="2.4499999999999997" ry="3.3" fill="#fff" fill-opacity="0.85" stroke="#6b7f8e" stroke-width="1.1"/>
<ellipse cx="90.34" cy="553.57" rx="2.4499999999999997" ry="3.3" fill="#fff" fill-opacity="0.85" stroke="#6b7f8e" stroke-width="1.1"/>
<ellipse cx="99.32" cy="550.41" rx="2.4499999999999997" ry="3.3" fill="#fff" fill-opacity="0.85" stroke="#6b7f8e" stroke-width="1.1"/>
<ellipse cx="108.30" cy="546.46" rx="2.4499999999999997" ry="3.3" fill="#fff" fill-opacity="0.85" stroke="#6b7f8e" stroke-width="1.1"/>
<ellipse cx="117.28" cy="542.52" rx="2.4499999999999997" ry="3.3" fill="#fff" fill-opacity="0.85" stroke="#6b7f8e" stroke-width="1.1"/>
<ellipse cx="126.26" cy="538.10" rx="2.4499999999999997" ry="3.3" fill="#fff" fill-opacity="0.85" stroke="#6b7f8e" stroke-width="1.1"/>
<ellipse cx="135.24" cy="533.05" rx="2.4499999999999997" ry="3.3" fill="#fff" fill-opacity="0.85" stroke="#6b7f8e" stroke-width="1.1"/>
<ellipse cx="144.22" cy="527.13" rx="2.4499999999999997" ry="3.3" fill="#fff" fill-opacity="0.85" stroke="#6b7f8e" stroke-width="1.1"/>
<ellipse cx="153.20" cy="522.79" rx="2.4499999999999997" ry="3.3" fill="#fff" fill-opacity="0.85" stroke="#6b7f8e" stroke-width="1.1"/>
<ellipse cx="162.18" cy="518.85" rx="2.4499999999999997" ry="3.3" fill="#fff" fill-opacity="0.85" stroke="#6b7f8e" stroke-width="1.1"/>
<ellipse cx="171.16" cy="515.69" rx="2.4499999999999997" ry="3.3" fill="#fff" fill-opacity="0.85" stroke="#6b7f8e" stroke-width="1.1"/>
<ellipse cx="180.14" cy="512.93" rx="2.4499999999999997" ry="3.3" fill="#fff" fill-opacity="0.85" stroke="#6b7f8e" stroke-width="1.1"/>
<ellipse cx="189.12" cy="510.57" rx="2.4499999999999997" ry="3.3" fill="#fff" fill-opacity="0.85" stroke="#6b7f8e" stroke-width="1.1"/>
<ellipse cx="198.10" cy="508.99" rx="2.4499999999999997" ry="3.3" fill="#fff" fill-opacity="0.85" stroke="#6b7f8e" stroke-width="1.1"/>
<ellipse cx="207.08" cy="507.80" rx="2.4499999999999997" ry="3.3" fill="#fff" fill-opacity="0.85" stroke="#6b7f8e" stroke-width="1.1"/>
<ellipse cx="216.06" cy="507.01" rx="2.4499999999999997" ry="3.3" fill="#fff" fill-opacity="0.85" stroke="#6b7f8e" stroke-width="1.1"/>
<ellipse cx="225.04" cy="506.62" rx="2.4499999999999997" ry="3.3" fill="#fff" fill-opacity="0.85" stroke="#6b7f8e" stroke-width="1.1"/>
<ellipse cx="234.02" cy="506.38" rx="2.4499999999999997" ry="3.3" fill="#fff" fill-opacity="0.85" stroke="#6b7f8e" stroke-width="1.1"/>
<path d="M63.40,558.30 L72.38,557.39 L81.36,556.49 L90.34,555.58 L99.32,554.67 L108.30,553.76 L117.28,552.86 L126.26,551.95 L135.24,551.04 L144.22,550.13 L153.20,549.23 L162.18,548.32 L171.16,547.41 L180.14,546.50 L189.12,545.60 L198.10,544.69 L207.08,543.78 L216.06,542.88 L225.04,541.97 L234.02,541.06" fill="none" stroke="#f0784f" stroke-width="0.7" stroke-opacity="0.45"/>
<ellipse cx="63.40" cy="558.30" rx="2.4499999999999997" ry="3.3" fill="#fff" fill-opacity="0.85" stroke="#f0784f" stroke-width="1.1"/>
<ellipse cx="72.38" cy="557.39" rx="2.4499999999999997" ry="3.3" fill="#fff" fill-opacity="0.85" stroke="#f0784f" stroke-width="1.1"/>
<ellipse cx="81.36" cy="556.49" rx="2.4499999999999997" ry="3.3" fill="#fff" fill-opacity="0.85" stroke="#f0784f" stroke-width="1.1"/>
<ellipse cx="90.34" cy="555.58" rx="2.4499999999999997" ry="3.3" fill="#fff" fill-opacity="0.85" stroke="#f0784f" stroke-width="1.1"/>
<ellipse cx="99.32" cy="554.67" rx="2.4499999999999997" ry="3.3" fill="#fff" fill-opacity="0.85" stroke="#f0784f" stroke-width="1.1"/>
<ellipse cx="108.30" cy="553.76" rx="2.4499999999999997" ry="3.3" fill="#fff" fill-opacity="0.85" stroke="#f0784f" stroke-width="1.1"/>
<ellipse cx="117.28" cy="552.86" rx="2.4499999999999997" ry="3.3" fill="#fff" fill-opacity="0.85" stroke="#f0784f" stroke-width="1.1"/>
<ellipse cx="126.26" cy="551.95" rx="2.4499999999999997" ry="3.3" fill="#fff" fill-opacity="0.85" stroke="#f0784f" stroke-width="1.1"/>
<ellipse cx="135.24" cy="551.04" rx="2.4499999999999997" ry="3.3" fill="#fff" fill-opacity="0.85" stroke="#f0784f" stroke-width="1.1"/>
<ellipse cx="144.22" cy="550.13" rx="2.4499999999999997" ry="3.3" fill="#fff" fill-opacity="0.85" stroke="#f0784f" stroke-width="1.1"/>
<ellipse cx="153.20" cy="549.23" rx="2.4499999999999997" ry="3.3" fill="#fff" fill-opacity="0.85" stroke="#f0784f" stroke-width="1.1"/>
<ellipse cx="162.18" cy="548.32" rx="2.4499999999999997" ry="3.3" fill="#fff" fill-opacity="0.85" stroke="#f0784f" stroke-width="1.1"/>
<ellipse cx="171.16" cy="547.41" rx="2.4499999999999997" ry="3.3" fill="#fff" fill-opacity="0.85" stroke="#f0784f" stroke-width="1.1"/>
<ellipse cx="180.14" cy="546.50" rx="2.4499999999999997" ry="3.3" fill="#fff" fill-opacity="0.85" stroke="#f0784f" stroke-width="1.1"/>
<ellipse cx="189.12" cy="545.60" rx="2.4499999999999997" ry="3.3" fill="#fff" fill-opacity="0.85" stroke="#f0784f" stroke-width="1.1"/>
<ellipse cx="198.10" cy="544.69" rx="2.4499999999999997" ry="3.3" fill="#fff" fill-opacity="0.85" stroke="#f0784f" stroke-width="1.1"/>
<ellipse cx="207.08" cy="543.78" rx="2.4499999999999997" ry="3.3" fill="#fff" fill-opacity="0.85" stroke="#f0784f" stroke-width="1.1"/>
<ellipse cx="216.06" cy="542.88" rx="2.4499999999999997" ry="3.3" fill="#fff" fill-opacity="0.85" stroke="#f0784f" stroke-width="1.1"/>
<ellipse cx="225.04" cy="541.97" rx="2.4499999999999997" ry="3.3" fill="#fff" fill-opacity="0.85" stroke="#f0784f" stroke-width="1.1"/>
<ellipse cx="234.02" cy="541.06" rx="2.4499999999999997" ry="3.3" fill="#fff" fill-opacity="0.85" stroke="#f0784f" stroke-width="1.1"/>
<path d="M63.40,558.30 L72.38,557.84 L81.36,557.38 L90.34,556.93 L99.32,556.47 L108.30,556.01 L117.28,555.55 L126.26,555.10 L135.24,554.64 L144.22,554.18 L153.20,553.72 L162.18,553.27 L171.16,552.81 L180.14,552.35 L189.12,551.89 L198.10,551.44 L207.08,550.98 L216.06,550.52 L225.04,550.06 L234.02,549.61" fill="none" stroke="#1c0cff" stroke-width="0.7" stroke-opacity="0.45"/>
<ellipse cx="63.40" cy="558.30" rx="2.4499999999999997" ry="3.3" fill="#fff" fill-opacity="0.85" stroke="#1c0cff" stroke-width="1.1"/>
<ellipse cx="72.38" cy="557.84" rx="2.4499999999999997" ry="3.3" fill="#fff" fill-opacity="0.85" stroke="#1c0cff" stroke-width="1.1"/>
<ellipse cx="81.36" cy="557.38" rx="2.4499999999999997" ry="3.3" fill="#fff" fill-opacity="0.85" stroke="#1c0cff" stroke-width="1.1"/>
<ellipse cx="90.34" cy="556.93" rx="2.4499999999999997" ry="3.3" fill="#fff" fill-opacity="0.85" stroke="#1c0cff" stroke-width="1.1"/>
<ellipse cx="99.32" cy="556.47" rx="2.4499999999999997" ry="3.3" fill="#fff" fill-opacity="0.85" stroke="#1c0cff" stroke-width="1.1"/>
<ellipse cx="108.30" cy="556.01" rx="2.4499999999999997" ry="3.3" fill="#fff" fill-opacity="0.85" stroke="#1c0cff" stroke-width="1.1"/>
<ellipse cx="117.28" cy="555.55" rx="2.4499999999999997" ry="3.3" fill="#fff" fill-opacity="0.85" stroke="#1c0cff" stroke-width="1.1"/>
<ellipse cx="126.26" cy="555.10" rx="2.4499999999999997" ry="3.3" fill="#fff" fill-opacity="0.85" stroke="#1c0cff" stroke-width="1.1"/>
<ellipse cx="135.24" cy="554.64" rx="2.4499999999999997" ry="3.3" fill="#fff" fill-opacity="0.85" stroke="#1c0cff" stroke-width="1.1"/>
<ellipse cx="144.22" cy="554.18" rx="2.4499999999999997" ry="3.3" fill="#fff" fill-opacity="0.85" stroke="#1c0cff" stroke-width="1.1"/>
<ellipse cx="153.20" cy="553.72" rx="2.4499999999999997" ry="3.3" fill="#fff" fill-opacity="0.85" stroke="#1c0cff" stroke-width="1.1"/>
<ellipse cx="162.18" cy="553.27" rx="2.4499999999999997" ry="3.3" fill="#fff" fill-opacity="0.85" stroke="#1c0cff" stroke-width="1.1"/>
<ellipse cx="171.16" cy="552.81" rx="2.4499999999999997" ry="3.3" fill="#fff" fill-opacity="0.85" stroke="#1c0cff" stroke-width="1.1"/>
<ellipse cx="180.14" cy="552.35" rx="2.4499999999999997" ry="3.3" fill="#fff" fill-opacity="0.85" stroke="#1c0cff" stroke-width="1.1"/>
<ellipse cx="189.12" cy="551.89" rx="2.4499999999999997" ry="3.3" fill="#fff" fill-opacity="0.85" stroke="#1c0cff" stroke-width="1.1"/>
<ellipse cx="198.10" cy="551.44" rx="2.4499999999999997" ry="3.3" fill="#fff" fill-opacity="0.85" stroke="#1c0cff" stroke-width="1.1"/>
<ellipse cx="207.08" cy="550.98" rx="2.4499999999999997" ry="3.3" fill="#fff" fill-opacity="0.85" stroke="#1c0cff" stroke-width="1.1"/>
<ellipse cx="216.06" cy="550.52" rx="2.4499999999999997" ry="3.3" fill="#fff" fill-opacity="0.85" stroke="#1c0cff" stroke-width="1.1"/>
<ellipse cx="225.04" cy="550.06" rx="2.4499999999999997" ry="3.3" fill="#fff" fill-opacity="0.85" stroke="#1c0cff" stroke-width="1.1"/>
<ellipse cx="234.02" cy="549.61" rx="2.4499999999999997" ry="3.3" fill="#fff" fill-opacity="0.85" stroke="#1c0cff" stroke-width="1.1"/>
<path d="M63.40,558.30 L72.38,519.64 L81.36,508.59 L90.34,504.88 L99.32,503.46 L108.30,502.91 L117.28,502.68 L126.26,502.52 L135.24,502.44 L144.22,502.36 L153.20,502.28 L162.18,502.28 L171.16,502.28 L180.14,502.28 L189.12,502.28 L198.10,502.28 L207.08,502.28 L216.06,502.28 L225.04,502.28 L234.02,502.28" fill="none" stroke="#6b7f8e" stroke-width="0.7" stroke-opacity="0.45"/>
<ellipse cx="63.40" cy="558.30" rx="2.8" ry="3.65" fill="#6b7f8e"/>
<ellipse cx="72.38" cy="519.64" rx="2.8" ry="3.65" fill="#6b7f8e"/>
<ellipse cx="81.36" cy="508.59" rx="2.8" ry="3.65" fill="#6b7f8e"/>
<ellipse cx="90.34" cy="504.88" rx="2.8" ry="3.65" fill="#6b7f8e"/>
<ellipse cx="99.32" cy="503.46" rx="2.8" ry="3.65" fill="#6b7f8e"/>
<ellipse cx="108.30" cy="502.91" rx="2.8" ry="3.65" fill="#6b7f8e"/>
<ellipse cx="117.28" cy="502.68" rx="2.8" ry="3.65" fill="#6b7f8e"/>
<ellipse cx="126.26" cy="502.52" rx="2.8" ry="3.65" fill="#6b7f8e"/>
<ellipse cx="135.24" cy="502.44" rx="2.8" ry="3.65" fill="#6b7f8e"/>
<ellipse cx="144.22" cy="502.36" rx="2.8" ry="3.65" fill="#6b7f8e"/>
<ellipse cx="153.20" cy="502.28" rx="2.8" ry="3.65" fill="#6b7f8e"/>
<ellipse cx="162.18" cy="502.28" rx="2.8" ry="3.65" fill="#6b7f8e"/>
<ellipse cx="171.16" cy="502.28" rx="2.8" ry="3.65" fill="#6b7f8e"/>
<ellipse cx="180.14" cy="502.28" rx="2.8" ry="3.65" fill="#6b7f8e"/>
<ellipse cx="189.12" cy="502.28" rx="2.8" ry="3.65" fill="#6b7f8e"/>
<ellipse cx="198.10" cy="502.28" rx="2.8" ry="3.65" fill="#6b7f8e"/>
<ellipse cx="207.08" cy="502.28" rx="2.8" ry="3.65" fill="#6b7f8e"/>
<ellipse cx="216.06" cy="502.28" rx="2.8" ry="3.65" fill="#6b7f8e"/>
<ellipse cx="225.04" cy="502.28" rx="2.8" ry="3.65" fill="#6b7f8e"/>
<ellipse cx="234.02" cy="502.28" rx="2.8" ry="3.65" fill="#6b7f8e"/>
<path d="M63.40,558.30 L72.38,527.53 L81.36,515.06 L90.34,509.38 L99.32,506.23 L108.30,504.65 L117.28,503.86 L126.26,503.46 L135.24,503.23 L144.22,503.07 L153.20,502.91 L162.18,502.91 L171.16,502.91 L180.14,502.91 L189.12,502.91 L198.10,502.91 L207.08,502.91 L216.06,502.91 L225.04,502.91 L234.02,502.91" fill="none" stroke="#f0784f" stroke-width="0.7" stroke-opacity="0.45"/>
<ellipse cx="63.40" cy="558.30" rx="2.8" ry="3.65" fill="#f0784f"/>
<ellipse cx="72.38" cy="527.53" rx="2.8" ry="3.65" fill="#f0784f"/>
<ellipse cx="81.36" cy="515.06" rx="2.8" ry="3.65" fill="#f0784f"/>
<ellipse cx="90.34" cy="509.38" rx="2.8" ry="3.65" fill="#f0784f"/>
<ellipse cx="99.32" cy="506.23" rx="2.8" ry="3.65" fill="#f0784f"/>
<ellipse cx="108.30" cy="504.65" rx="2.8" ry="3.65" fill="#f0784f"/>
<ellipse cx="117.28" cy="503.86" rx="2.8" ry="3.65" fill="#f0784f"/>
<ellipse cx="126.26" cy="503.46" rx="2.8" ry="3.65" fill="#f0784f"/>
<ellipse cx="135.24" cy="503.23" rx="2.8" ry="3.65" fill="#f0784f"/>
<ellipse cx="144.22" cy="503.07" rx="2.8" ry="3.65" fill="#f0784f"/>
<ellipse cx="153.20" cy="502.91" rx="2.8" ry="3.65" fill="#f0784f"/>
<ellipse cx="162.18" cy="502.91" rx="2.8" ry="3.65" fill="#f0784f"/>
<ellipse cx="171.16" cy="502.91" rx="2.8" ry="3.65" fill="#f0784f"/>
<ellipse cx="180.14" cy="502.91" rx="2.8" ry="3.65" fill="#f0784f"/>
<ellipse cx="189.12" cy="502.91" rx="2.8" ry="3.65" fill="#f0784f"/>
<ellipse cx="198.10" cy="502.91" rx="2.8" ry="3.65" fill="#f0784f"/>
<ellipse cx="207.08" cy="502.91" rx="2.8" ry="3.65" fill="#f0784f"/>
<ellipse cx="216.06" cy="502.91" rx="2.8" ry="3.65" fill="#f0784f"/>
<ellipse cx="225.04" cy="502.91" rx="2.8" ry="3.65" fill="#f0784f"/>
<ellipse cx="234.02" cy="502.91" rx="2.8" ry="3.65" fill="#f0784f"/>
<path d="M63.40,558.30 L72.38,542.76 L81.36,526.74 L90.34,517.27 L99.32,512.54 L108.30,510.41 L117.28,508.83 L126.26,507.49 L135.24,506.62 L144.22,506.07 L153.20,505.59 L162.18,505.20 L171.16,504.81 L180.14,504.49 L189.12,504.17 L198.10,503.86 L207.08,503.62 L216.06,503.39 L225.04,503.23 L234.02,503.07" fill="none" stroke="#1c0cff" stroke-width="0.7" stroke-opacity="0.45"/>
<ellipse cx="63.40" cy="558.30" rx="2.8" ry="3.65" fill="#1c0cff"/>
<ellipse cx="72.38" cy="542.76" rx="2.8" ry="3.65" fill="#1c0cff"/>
<ellipse cx="81.36" cy="526.74" rx="2.8" ry="3.65" fill="#1c0cff"/>
<ellipse cx="90.34" cy="517.27" rx="2.8" ry="3.65" fill="#1c0cff"/>
<ellipse cx="99.32" cy="512.54" rx="2.8" ry="3.65" fill="#1c0cff"/>
<ellipse cx="108.30" cy="510.41" rx="2.8" ry="3.65" fill="#1c0cff"/>
<ellipse cx="117.28" cy="508.83" rx="2.8" ry="3.65" fill="#1c0cff"/>
<ellipse cx="126.26" cy="507.49" rx="2.8" ry="3.65" fill="#1c0cff"/>
<ellipse cx="135.24" cy="506.62" rx="2.8" ry="3.65" fill="#1c0cff"/>
<ellipse cx="144.22" cy="506.07" rx="2.8" ry="3.65" fill="#1c0cff"/>
<ellipse cx="153.20" cy="505.59" rx="2.8" ry="3.65" fill="#1c0cff"/>
<ellipse cx="162.18" cy="505.20" rx="2.8" ry="3.65" fill="#1c0cff"/>
<ellipse cx="171.16" cy="504.81" rx="2.8" ry="3.65" fill="#1c0cff"/>
<ellipse cx="180.14" cy="504.49" rx="2.8" ry="3.65" fill="#1c0cff"/>
<ellipse cx="189.12" cy="504.17" rx="2.8" ry="3.65" fill="#1c0cff"/>
<ellipse cx="198.10" cy="503.86" rx="2.8" ry="3.65" fill="#1c0cff"/>
<ellipse cx="207.08" cy="503.62" rx="2.8" ry="3.65" fill="#1c0cff"/>
<ellipse cx="216.06" cy="503.39" rx="2.8" ry="3.65" fill="#1c0cff"/>
<ellipse cx="225.04" cy="503.23" rx="2.8" ry="3.65" fill="#1c0cff"/>
<ellipse cx="234.02" cy="503.07" rx="2.8" ry="3.65" fill="#1c0cff"/>
</g>
<line x1="63.4" y1="502.3" x2="244.1" y2="502.3" stroke="#111" stroke-width="1.5"/>
<line x1="63.4" y1="518.8" x2="65.4" y2="518.8" stroke="#555" stroke-width="0.8"/>
<g transform="translate(69.60,497.60)"><text x="0.00" y="0.00" font-family='"Liberation Serif",serif' font-size="15.50" fill="#111" stroke="#111" stroke-width="0.15">1</text>
<text x="8.84" y="0.00" font-family='"Liberation Serif",serif' font-size="15.50" fill="#111" stroke="#111" stroke-width="0.15">/</text>
<text x="14.23" y="3.88" font-family='"Liberation Serif",serif' font-size="22.47" fill="#111" stroke="#111" stroke-width="0.15">√</text>
<text x="27.00" y="0.00" font-family='"Liberation Serif",serif' font-size="15.50" fill="#111" stroke="#111" stroke-width="0.15">2</text>
<line x1="25.86" y1="-13.41" x2="35.22" y2="-13.41" stroke="#111" stroke-width="0.94"/></g>
<text transform="translate(57.4,487.8) scale(1.08,1)" font-family='"Liberation Serif",serif' font-size="18" text-anchor="end" fill="#111" stroke="#111" stroke-width="0.25">1</text>
<text transform="translate(55.6,565.6) scale(1.08,1)" font-family='"Liberation Serif",serif' font-size="18" text-anchor="end" fill="#111" stroke="#111" stroke-width="0.25">0</text>
<text transform="translate(63.4,577.2) scale(1.08,1)" font-family='"Liberation Serif",serif' font-size="18" text-anchor="middle" fill="#111" stroke="#111" stroke-width="0.25">0</text>
<text transform="translate(108.3,577.2) scale(1.08,1)" font-family='"Liberation Serif",serif' font-size="18" text-anchor="middle" fill="#111" stroke="#111" stroke-width="0.25">5</text>
<text transform="translate(199,577.2) scale(1.08,1)" font-family='"Liberation Serif",serif' font-size="18" text-anchor="middle" fill="#111" stroke="#111" stroke-width="0.25">15</text>
<text transform="translate(243.2,577.2) scale(1.08,1)" font-family='"Liberation Serif",serif' font-size="18" text-anchor="middle" fill="#111" stroke="#111" stroke-width="0.25">20</text>
<g transform="translate(131.50,584.00)"><text x="0.00" y="0.00" font-family='"Liberation Serif",serif' font-size="18.00" font-style="italic" fill="#111" stroke="#111" stroke-width="0.2">t</text>
<text x="8.06" y="0.00" font-family='"Liberation Serif",serif' font-size="18.00" fill="#111" stroke="#111" stroke-width="0.2">[</text>
<text x="14.06" y="0.00" font-family='"Liberation Serif",serif' font-size="18.00" font-style="italic" fill="#111" stroke="#111" stroke-width="0.2">μs</text>
<text x="30.10" y="0.00" font-family='"Liberation Serif",serif' font-size="18.00" fill="#111" stroke="#111" stroke-width="0.2">]</text></g>
<circle cx="257.80" cy="381.8" r="4.4" fill="#fff" stroke="#6b7f8e" stroke-width="1.15"/>
<circle cx="257.80" cy="430.7" r="4.7" fill="#6b7f8e"/>
<circle cx="283.95" cy="381.8" r="4.4" fill="#fff" stroke="#f0784f" stroke-width="1.15"/>
<circle cx="283.95" cy="430.7" r="4.7" fill="#f0784f"/>
<circle cx="310.10" cy="381.8" r="4.4" fill="#fff" stroke="#1c0cff" stroke-width="1.15"/>
<circle cx="310.10" cy="430.7" r="4.7" fill="#1c0cff"/>
<g transform="translate(252.30,402.70)"><text x="0.00" y="0.00" font-family='"Liberation Serif",serif' font-size="14.70" font-style="italic" fill="#111" stroke="#111" stroke-width="0.25">σ</text>
<text x="7.42" y="3.23" font-family='"Liberation Serif",serif' font-size="10.29" font-style="italic" fill="#111" stroke="#111" stroke-width="0.25">z</text>
<text x="11.52" y="5.50" font-family='"Liberation Serif",serif' font-size="8.85" fill="#111" stroke="#111" stroke-width="0.25">1</text>
<text x="16.05" y="3.23" font-family='"Liberation Serif",serif' font-size="10.29" fill="#111" stroke="#111" stroke-width="0.25">,0</text>
<text x="27.56" y="1.47" font-family='"Liberation Serif",serif' font-size="17.35" fill="#111" stroke="#111" stroke-width="0.25">=</text>
<text x="41.18" y="0.00" font-family='"Liberation Serif",serif' font-size="14.70" fill="#111" stroke="#111" stroke-width="0.25">30</text>
<text x="58.79" y="0.00" font-family='"Liberation Serif",serif' font-size="14.70" fill="#111" stroke="#111" stroke-width="0.25">[</text>
<text x="63.80" y="0.00" font-family='"Liberation Serif",serif' font-size="14.70" font-style="italic" fill="#111" stroke="#111" stroke-width="0.25">nm</text>
<text x="82.19" y="0.00" font-family='"Liberation Serif",serif' font-size="14.70" fill="#111" stroke="#111" stroke-width="0.25">]</text></g>
<g transform="translate(252.30,450.30) scale(1.105,1)"><text x="0.00" y="0.00" font-family='"Liberation Serif",serif' font-size="12.60" font-style="italic" fill="#111" stroke="#111" stroke-width="0.25">σ</text>
<text x="6.21" y="2.77" font-family='"Liberation Serif",serif' font-size="8.82" font-style="italic" fill="#111" stroke="#111" stroke-width="0.25">z</text>
<text x="9.65" y="4.71" font-family='"Liberation Serif",serif' font-size="7.59" fill="#111" stroke="#111" stroke-width="0.25">1</text>
<text x="13.44" y="2.77" font-family='"Liberation Serif",serif' font-size="8.82" fill="#111" stroke="#111" stroke-width="0.25">,0</text>
<text x="23.08" y="1.26" font-family='"Liberation Serif",serif' font-size="14.87" fill="#111" stroke="#111" stroke-width="0.25">=</text>
<text x="34.49" y="0.00" font-family='"Liberation Serif",serif' font-size="12.60" fill="#111" stroke="#111" stroke-width="0.25">145</text>
<text x="55.53" y="0.00" font-family='"Liberation Serif",serif' font-size="12.60" fill="#111" stroke="#111" stroke-width="0.25">[</text>
<text x="59.73" y="0.00" font-family='"Liberation Serif",serif' font-size="12.60" font-style="italic" fill="#111" stroke="#111" stroke-width="0.25">nm</text>
<text x="75.13" y="0.00" font-family='"Liberation Serif",serif' font-size="12.60" fill="#111" stroke="#111" stroke-width="0.25">]</text></g>
<circle cx="357.00" cy="486.6" r="4.4" fill="#fff" stroke="#6b7f8e" stroke-width="1.15"/>
<circle cx="357.00" cy="536" r="4.6" fill="#6b7f8e"/>
<circle cx="382.85" cy="486.6" r="4.4" fill="#fff" stroke="#f0784f" stroke-width="1.15"/>
<circle cx="382.85" cy="536" r="4.6" fill="#f0784f"/>
<circle cx="408.70" cy="486.6" r="4.4" fill="#fff" stroke="#1c0cff" stroke-width="1.15"/>
<circle cx="408.70" cy="536" r="4.6" fill="#1c0cff"/>
<g transform="translate(351.90,507.70) scale(1.095,1)"><text x="0.00" y="0.00" font-family='"Liberation Serif",serif' font-size="12.30" font-style="italic" fill="#111" stroke="#111" stroke-width="0.25">σ</text>
<text x="6.07" y="2.71" font-family='"Liberation Serif",serif' font-size="8.61" font-style="italic" fill="#111" stroke="#111" stroke-width="0.25">z</text>
<text x="9.42" y="4.60" font-family='"Liberation Serif",serif' font-size="7.40" fill="#111" stroke="#111" stroke-width="0.25">1</text>
<text x="13.12" y="2.71" font-family='"Liberation Serif",serif' font-size="8.61" fill="#111" stroke="#111" stroke-width="0.25">,0</text>
<text x="22.53" y="1.23" font-family='"Liberation Serif",serif' font-size="14.51" fill="#111" stroke="#111" stroke-width="0.25">=</text>
<text x="33.67" y="0.00" font-family='"Liberation Serif",serif' font-size="12.30" fill="#111" stroke="#111" stroke-width="0.25">0.01</text>
<text x="57.28" y="0.00" font-family='"Liberation Serif",serif' font-size="12.30" fill="#111" stroke="#111" stroke-width="0.25">[</text>
<text x="61.38" y="0.00" font-family='"Liberation Serif",serif' font-size="12.30" font-style="italic" fill="#111" stroke="#111" stroke-width="0.25">nm</text>
<text x="76.41" y="0.00" font-family='"Liberation Serif",serif' font-size="12.30" fill="#111" stroke="#111" stroke-width="0.25">]</text></g>
<g transform="translate(351.90,556.20) scale(1.095,1)"><text x="0.00" y="0.00" font-family='"Liberation Serif",serif' font-size="12.30" font-style="italic" fill="#111" stroke="#111" stroke-width="0.25">σ</text>
<text x="6.07" y="2.71" font-family='"Liberation Serif",serif' font-size="8.61" font-style="italic" fill="#111" stroke="#111" stroke-width="0.25">z</text>
<text x="9.42" y="4.60" font-family='"Liberation Serif",serif' font-size="7.40" fill="#111" stroke="#111" stroke-width="0.25">1</text>
<text x="13.12" y="2.71" font-family='"Liberation Serif",serif' font-size="8.61" fill="#111" stroke="#111" stroke-width="0.25">,0</text>
<text x="22.53" y="1.23" font-family='"Liberation Serif",serif' font-size="14.51" fill="#111" stroke="#111" stroke-width="0.25">=</text>
<text x="33.67" y="0.00" font-family='"Liberation Serif",serif' font-size="12.30" fill="#111" stroke="#111" stroke-width="0.25">0.08</text>
<text x="57.28" y="0.00" font-family='"Liberation Serif",serif' font-size="12.30" fill="#111" stroke="#111" stroke-width="0.25">[</text>
<text x="61.38" y="0.00" font-family='"Liberation Serif",serif' font-size="12.30" font-style="italic" fill="#111" stroke="#111" stroke-width="0.25">nm</text>
<text x="76.41" y="0.00" font-family='"Liberation Serif",serif' font-size="12.30" fill="#111" stroke="#111" stroke-width="0.25">]</text></g>
<rect x="455.9" y="378.5" width="180.5" height="79.89999999999998" fill="#fff" stroke="#555" stroke-width="1"/>
<clipPath id="c3"><rect x="455.4" y="378.5" width="181.5" height="80.49999999999997"/></clipPath><g clip-path="url(#c3)">
<path d="M456.40,458.40 L465.49,458.14 L474.58,457.88 L483.67,457.62 L492.76,457.36 L501.85,457.10 L510.94,456.84 L520.03,456.58 L529.12,456.32 L538.21,456.06 L547.30,455.80 L556.39,455.54 L565.48,455.28 L574.57,455.02 L583.66,454.76 L592.75,454.50 L601.84,454.24 L610.93,453.98 L620.02,453.72 L629.11,453.46" fill="none" stroke="#f0784f" stroke-width="0.7" stroke-opacity="0.45"/>
<ellipse cx="456.40" cy="458.40" rx="2.65" ry="3.55" fill="#fff" fill-opacity="0.85" stroke="#f0784f" stroke-width="1.1"/>
<ellipse cx="465.49" cy="458.14" rx="2.65" ry="3.55" fill="#fff" fill-opacity="0.85" stroke="#f0784f" stroke-width="1.1"/>
<ellipse cx="474.58" cy="457.88" rx="2.65" ry="3.55" fill="#fff" fill-opacity="0.85" stroke="#f0784f" stroke-width="1.1"/>
<ellipse cx="483.67" cy="457.62" rx="2.65" ry="3.55" fill="#fff" fill-opacity="0.85" stroke="#f0784f" stroke-width="1.1"/>
<ellipse cx="492.76" cy="457.36" rx="2.65" ry="3.55" fill="#fff" fill-opacity="0.85" stroke="#f0784f" stroke-width="1.1"/>
<ellipse cx="501.85" cy="457.10" rx="2.65" ry="3.55" fill="#fff" fill-opacity="0.85" stroke="#f0784f" stroke-width="1.1"/>
<ellipse cx="510.94" cy="456.84" rx="2.65" ry="3.55" fill="#fff" fill-opacity="0.85" stroke="#f0784f" stroke-width="1.1"/>
<ellipse cx="520.03" cy="456.58" rx="2.65" ry="3.55" fill="#fff" fill-opacity="0.85" stroke="#f0784f" stroke-width="1.1"/>
<ellipse cx="529.12" cy="456.32" rx="2.65" ry="3.55" fill="#fff" fill-opacity="0.85" stroke="#f0784f" stroke-width="1.1"/>
<ellipse cx="538.21" cy="456.06" rx="2.65" ry="3.55" fill="#fff" fill-opacity="0.85" stroke="#f0784f" stroke-width="1.1"/>
<ellipse cx="547.30" cy="455.80" rx="2.65" ry="3.55" fill="#fff" fill-opacity="0.85" stroke="#f0784f" stroke-width="1.1"/>
<ellipse cx="556.39" cy="455.54" rx="2.65" ry="3.55" fill="#fff" fill-opacity="0.85" stroke="#f0784f" stroke-width="1.1"/>
<ellipse cx="565.48" cy="455.28" rx="2.65" ry="3.55" fill="#fff" fill-opacity="0.85" stroke="#f0784f" stroke-width="1.1"/>
<ellipse cx="574.57" cy="455.02" rx="2.65" ry="3.55" fill="#fff" fill-opacity="0.85" stroke="#f0784f" stroke-width="1.1"/>
<ellipse cx="583.66" cy="454.76" rx="2.65" ry="3.55" fill="#fff" fill-opacity="0.85" stroke="#f0784f" stroke-width="1.1"/>
<ellipse cx="592.75" cy="454.50" rx="2.65" ry="3.55" fill="#fff" fill-opacity="0.85" stroke="#f0784f" stroke-width="1.1"/>
<ellipse cx="601.84" cy="454.24" rx="2.65" ry="3.55" fill="#fff" fill-opacity="0.85" stroke="#f0784f" stroke-width="1.1"/>
<ellipse cx="610.93" cy="453.98" rx="2.65" ry="3.55" fill="#fff" fill-opacity="0.85" stroke="#f0784f" stroke-width="1.1"/>
<ellipse cx="620.02" cy="453.72" rx="2.65" ry="3.55" fill="#fff" fill-opacity="0.85" stroke="#f0784f" stroke-width="1.1"/>
<ellipse cx="629.11" cy="453.46" rx="2.65" ry="3.55" fill="#fff" fill-opacity="0.85" stroke="#f0784f" stroke-width="1.1"/>
<path d="M457.40,458.40 L466.49,457.86 L475.58,457.32 L484.67,456.78 L493.76,456.24 L502.85,455.70 L511.94,455.16 L521.03,454.62 L530.12,454.08 L539.21,453.54 L548.30,453.00 L557.39,452.46 L566.48,451.92 L575.57,451.38 L584.66,450.84 L593.75,450.30 L602.84,449.76 L611.93,449.22 L621.02,448.68 L630.11,448.14" fill="none" stroke="#6b7f8e" stroke-width="0.7" stroke-opacity="0.45"/>
<ellipse cx="457.40" cy="458.40" rx="2.65" ry="3.55" fill="#fff" fill-opacity="0.85" stroke="#6b7f8e" stroke-width="1.1"/>
<ellipse cx="466.49" cy="457.86" rx="2.65" ry="3.55" fill="#fff" fill-opacity="0.85" stroke="#6b7f8e" stroke-width="1.1"/>
<ellipse cx="475.58" cy="457.32" rx="2.65" ry="3.55" fill="#fff" fill-opacity="0.85" stroke="#6b7f8e" stroke-width="1.1"/>
<ellipse cx="484.67" cy="456.78" rx="2.65" ry="3.55" fill="#fff" fill-opacity="0.85" stroke="#6b7f8e" stroke-width="1.1"/>
<ellipse cx="493.76" cy="456.24" rx="2.65" ry="3.55" fill="#fff" fill-opacity="0.85" stroke="#6b7f8e" stroke-width="1.1"/>
<ellipse cx="502.85" cy="455.70" rx="2.65" ry="3.55" fill="#fff" fill-opacity="0.85" stroke="#6b7f8e" stroke-width="1.1"/>
<ellipse cx="511.94" cy="455.16" rx="2.65" ry="3.55" fill="#fff" fill-opacity="0.85" stroke="#6b7f8e" stroke-width="1.1"/>
<ellipse cx="521.03" cy="454.62" rx="2.65" ry="3.55" fill="#fff" fill-opacity="0.85" stroke="#6b7f8e" stroke-width="1.1"/>
<ellipse cx="530.12" cy="454.08" rx="2.65" ry="3.55" fill="#fff" fill-opacity="0.85" stroke="#6b7f8e" stroke-width="1.1"/>
<ellipse cx="539.21" cy="453.54" rx="2.65" ry="3.55" fill="#fff" fill-opacity="0.85" stroke="#6b7f8e" stroke-width="1.1"/>
<ellipse cx="548.30" cy="453.00" rx="2.65" ry="3.55" fill="#fff" fill-opacity="0.85" stroke="#6b7f8e" stroke-width="1.1"/>
<ellipse cx="557.39" cy="452.46" rx="2.65" ry="3.55" fill="#fff" fill-opacity="0.85" stroke="#6b7f8e" stroke-width="1.1"/>
<ellipse cx="566.48" cy="451.92" rx="2.65" ry="3.55" fill="#fff" fill-opacity="0.85" stroke="#6b7f8e" stroke-width="1.1"/>
<ellipse cx="575.57" cy="451.38" rx="2.65" ry="3.55" fill="#fff" fill-opacity="0.85" stroke="#6b7f8e" stroke-width="1.1"/>
<ellipse cx="584.66" cy="450.84" rx="2.65" ry="3.55" fill="#fff" fill-opacity="0.85" stroke="#6b7f8e" stroke-width="1.1"/>
<ellipse cx="593.75" cy="450.30" rx="2.65" ry="3.55" fill="#fff" fill-opacity="0.85" stroke="#6b7f8e" stroke-width="1.1"/>
<ellipse cx="602.84" cy="449.76" rx="2.65" ry="3.55" fill="#fff" fill-opacity="0.85" stroke="#6b7f8e" stroke-width="1.1"/>
<ellipse cx="611.93" cy="449.22" rx="2.65" ry="3.55" fill="#fff" fill-opacity="0.85" stroke="#6b7f8e" stroke-width="1.1"/>
<ellipse cx="621.02" cy="448.68" rx="2.65" ry="3.55" fill="#fff" fill-opacity="0.85" stroke="#6b7f8e" stroke-width="1.1"/>
<ellipse cx="630.11" cy="448.14" rx="2.65" ry="3.55" fill="#fff" fill-opacity="0.85" stroke="#6b7f8e" stroke-width="1.1"/>
<path d="M456.40,458.40 L465.49,457.86 L474.58,457.32 L483.67,456.78 L492.76,456.24 L501.85,455.70 L510.94,455.16 L520.03,454.62 L529.12,454.08 L538.21,453.54 L547.30,453.00 L556.39,452.46 L565.48,451.92 L574.57,451.38 L583.66,450.84 L592.75,450.30 L601.84,449.76 L610.93,449.22 L620.02,448.68 L629.11,448.14" fill="none" stroke="#1c0cff" stroke-width="0.7" stroke-opacity="0.45"/>
<ellipse cx="456.40" cy="458.40" rx="2.65" ry="3.55" fill="#fff" fill-opacity="0.85" stroke="#1c0cff" stroke-width="1.1"/>
<ellipse cx="465.49" cy="457.86" rx="2.65" ry="3.55" fill="#fff" fill-opacity="0.85" stroke="#1c0cff" stroke-width="1.1"/>
<ellipse cx="474.58" cy="457.32" rx="2.65" ry="3.55" fill="#fff" fill-opacity="0.85" stroke="#1c0cff" stroke-width="1.1"/>
<ellipse cx="483.67" cy="456.78" rx="2.65" ry="3.55" fill="#fff" fill-opacity="0.85" stroke="#1c0cff" stroke-width="1.1"/>
<ellipse cx="492.76" cy="456.24" rx="2.65" ry="3.55" fill="#fff" fill-opacity="0.85" stroke="#1c0cff" stroke-width="1.1"/>
<ellipse cx="501.85" cy="455.70" rx="2.65" ry="3.55" fill="#fff" fill-opacity="0.85" stroke="#1c0cff" stroke-width="1.1"/>
<ellipse cx="510.94" cy="455.16" rx="2.65" ry="3.55" fill="#fff" fill-opacity="0.85" stroke="#1c0cff" stroke-width="1.1"/>
<ellipse cx="520.03" cy="454.62" rx="2.65" ry="3.55" fill="#fff" fill-opacity="0.85" stroke="#1c0cff" stroke-width="1.1"/>
<ellipse cx="529.12" cy="454.08" rx="2.65" ry="3.55" fill="#fff" fill-opacity="0.85" stroke="#1c0cff" stroke-width="1.1"/>
<ellipse cx="538.21" cy="453.54" rx="2.65" ry="3.55" fill="#fff" fill-opacity="0.85" stroke="#1c0cff" stroke-width="1.1"/>
<ellipse cx="547.30" cy="453.00" rx="2.65" ry="3.55" fill="#fff" fill-opacity="0.85" stroke="#1c0cff" stroke-width="1.1"/>
<ellipse cx="556.39" cy="452.46" rx="2.65" ry="3.55" fill="#fff" fill-opacity="0.85" stroke="#1c0cff" stroke-width="1.1"/>
<ellipse cx="565.48" cy="451.92" rx="2.65" ry="3.55" fill="#fff" fill-opacity="0.85" stroke="#1c0cff" stroke-width="1.1"/>
<ellipse cx="574.57" cy="451.38" rx="2.65" ry="3.55" fill="#fff" fill-opacity="0.85" stroke="#1c0cff" stroke-width="1.1"/>
<ellipse cx="583.66" cy="450.84" rx="2.65" ry="3.55" fill="#fff" fill-opacity="0.85" stroke="#1c0cff" stroke-width="1.1"/>
<ellipse cx="592.75" cy="450.30" rx="2.65" ry="3.55" fill="#fff" fill-opacity="0.85" stroke="#1c0cff" stroke-width="1.1"/>
<ellipse cx="601.84" cy="449.76" rx="2.65" ry="3.55" fill="#fff" fill-opacity="0.85" stroke="#1c0cff" stroke-width="1.1"/>
<ellipse cx="610.93" cy="449.22" rx="2.65" ry="3.55" fill="#fff" fill-opacity="0.85" stroke="#1c0cff" stroke-width="1.1"/>
<ellipse cx="620.02" cy="448.68" rx="2.65" ry="3.55" fill="#fff" fill-opacity="0.85" stroke="#1c0cff" stroke-width="1.1"/>
<ellipse cx="629.11" cy="448.14" rx="2.65" ry="3.55" fill="#fff" fill-opacity="0.85" stroke="#1c0cff" stroke-width="1.1"/>
<path d="M456.40,458.40 L465.49,454.80 L474.58,450.90 L483.67,446.50 L492.76,442.10 L501.85,438.60 L510.94,434.70 L520.03,430.90 L529.12,426.90 L538.21,423.40 L547.30,419.60 L556.39,416.00 L565.48,412.40 L574.57,408.90 L583.66,405.90 L592.75,402.80 L601.84,400.20 L610.93,397.70 L620.02,395.70 L629.11,393.60" fill="none" stroke="#f0784f" stroke-width="0.7" stroke-opacity="0.45"/>
<ellipse cx="456.40" cy="458.40" rx="2.9" ry="4.1" fill="#f0784f"/>
<ellipse cx="465.49" cy="454.80" rx="2.9" ry="4.1" fill="#f0784f"/>
<ellipse cx="474.58" cy="450.90" rx="2.9" ry="4.1" fill="#f0784f"/>
<ellipse cx="483.67" cy="446.50" rx="2.9" ry="4.1" fill="#f0784f"/>
<ellipse cx="492.76" cy="442.10" rx="2.9" ry="4.1" fill="#f0784f"/>
<ellipse cx="501.85" cy="438.60" rx="2.9" ry="4.1" fill="#f0784f"/>
<ellipse cx="510.94" cy="434.70" rx="2.9" ry="4.1" fill="#f0784f"/>
<ellipse cx="520.03" cy="430.90" rx="2.9" ry="4.1" fill="#f0784f"/>
<ellipse cx="529.12" cy="426.90" rx="2.9" ry="4.1" fill="#f0784f"/>
<ellipse cx="538.21" cy="423.40" rx="2.9" ry="4.1" fill="#f0784f"/>
<ellipse cx="547.30" cy="419.60" rx="2.9" ry="4.1" fill="#f0784f"/>
<ellipse cx="556.39" cy="416.00" rx="2.9" ry="4.1" fill="#f0784f"/>
<ellipse cx="565.48" cy="412.40" rx="2.9" ry="4.1" fill="#f0784f"/>
<ellipse cx="574.57" cy="408.90" rx="2.9" ry="4.1" fill="#f0784f"/>
<ellipse cx="583.66" cy="405.90" rx="2.9" ry="4.1" fill="#f0784f"/>
<ellipse cx="592.75" cy="402.80" rx="2.9" ry="4.1" fill="#f0784f"/>
<ellipse cx="601.84" cy="400.20" rx="2.9" ry="4.1" fill="#f0784f"/>
<ellipse cx="610.93" cy="397.70" rx="2.9" ry="4.1" fill="#f0784f"/>
<ellipse cx="620.02" cy="395.70" rx="2.9" ry="4.1" fill="#f0784f"/>
<ellipse cx="629.11" cy="393.60" rx="2.9" ry="4.1" fill="#f0784f"/>
<path d="M457.50,458.40 L466.59,450.50 L475.68,443.50 L484.77,436.50 L493.86,429.50 L502.95,422.50 L512.04,416.40 L521.13,409.90 L530.22,404.10 L539.31,398.80 L548.40,394.50 L557.49,390.50 L566.58,388.10 L575.67,386.50 L584.76,385.80 L593.85,386.10 L602.94,386.90 L612.03,388.70 L621.12,390.50 L630.21,393.00" fill="none" stroke="#6b7f8e" stroke-width="0.7" stroke-opacity="0.45"/>
<ellipse cx="457.50" cy="458.40" rx="2.9" ry="4.1" fill="#6b7f8e"/>
<ellipse cx="466.59" cy="450.50" rx="2.9" ry="4.1" fill="#6b7f8e"/>
<ellipse cx="475.68" cy="443.50" rx="2.9" ry="4.1" fill="#6b7f8e"/>
<ellipse cx="484.77" cy="436.50" rx="2.9" ry="4.1" fill="#6b7f8e"/>
<ellipse cx="493.86" cy="429.50" rx="2.9" ry="4.1" fill="#6b7f8e"/>
<ellipse cx="502.95" cy="422.50" rx="2.9" ry="4.1" fill="#6b7f8e"/>
<ellipse cx="512.04" cy="416.40" rx="2.9" ry="4.1" fill="#6b7f8e"/>
<ellipse cx="521.13" cy="409.90" rx="2.9" ry="4.1" fill="#6b7f8e"/>
<ellipse cx="530.22" cy="404.10" rx="2.9" ry="4.1" fill="#6b7f8e"/>
<ellipse cx="539.31" cy="398.80" rx="2.9" ry="4.1" fill="#6b7f8e"/>
<ellipse cx="548.40" cy="394.50" rx="2.9" ry="4.1" fill="#6b7f8e"/>
<ellipse cx="557.49" cy="390.50" rx="2.9" ry="4.1" fill="#6b7f8e"/>
<ellipse cx="566.58" cy="388.10" rx="2.9" ry="4.1" fill="#6b7f8e"/>
<ellipse cx="575.67" cy="386.50" rx="2.9" ry="4.1" fill="#6b7f8e"/>
<ellipse cx="584.76" cy="385.80" rx="2.9" ry="4.1" fill="#6b7f8e"/>
<ellipse cx="593.85" cy="386.10" rx="2.9" ry="4.1" fill="#6b7f8e"/>
<ellipse cx="602.94" cy="386.90" rx="2.9" ry="4.1" fill="#6b7f8e"/>
<ellipse cx="612.03" cy="388.70" rx="2.9" ry="4.1" fill="#6b7f8e"/>
<ellipse cx="621.12" cy="390.50" rx="2.9" ry="4.1" fill="#6b7f8e"/>
<ellipse cx="630.21" cy="393.00" rx="2.9" ry="4.1" fill="#6b7f8e"/>
<path d="M456.40,458.40 L465.49,450.50 L474.58,443.50 L483.67,436.50 L492.76,429.50 L501.85,422.50 L510.94,416.40 L520.03,409.90 L529.12,404.10 L538.21,398.80 L547.30,394.50 L556.39,390.50 L565.48,388.10 L574.57,386.50 L583.66,385.80 L592.75,386.10 L601.84,386.90 L610.93,388.70 L620.02,390.50 L629.11,393.00" fill="none" stroke="#1c0cff" stroke-width="0.7" stroke-opacity="0.45"/>
<ellipse cx="456.40" cy="458.40" rx="2.9" ry="4.1" fill="#1c0cff"/>
<ellipse cx="465.49" cy="450.50" rx="2.9" ry="4.1" fill="#1c0cff"/>
<ellipse cx="474.58" cy="443.50" rx="2.9" ry="4.1" fill="#1c0cff"/>
<ellipse cx="483.67" cy="436.50" rx="2.9" ry="4.1" fill="#1c0cff"/>
<ellipse cx="492.76" cy="429.50" rx="2.9" ry="4.1" fill="#1c0cff"/>
<ellipse cx="501.85" cy="422.50" rx="2.9" ry="4.1" fill="#1c0cff"/>
<ellipse cx="510.94" cy="416.40" rx="2.9" ry="4.1" fill="#1c0cff"/>
<ellipse cx="520.03" cy="409.90" rx="2.9" ry="4.1" fill="#1c0cff"/>
<ellipse cx="529.12" cy="404.10" rx="2.9" ry="4.1" fill="#1c0cff"/>
<ellipse cx="538.21" cy="398.80" rx="2.9" ry="4.1" fill="#1c0cff"/>
<ellipse cx="547.30" cy="394.50" rx="2.9" ry="4.1" fill="#1c0cff"/>
<ellipse cx="556.39" cy="390.50" rx="2.9" ry="4.1" fill="#1c0cff"/>
<ellipse cx="565.48" cy="388.10" rx="2.9" ry="4.1" fill="#1c0cff"/>
<ellipse cx="574.57" cy="386.50" rx="2.9" ry="4.1" fill="#1c0cff"/>
<ellipse cx="583.66" cy="385.80" rx="2.9" ry="4.1" fill="#1c0cff"/>
<ellipse cx="592.75" cy="386.10" rx="2.9" ry="4.1" fill="#1c0cff"/>
<ellipse cx="601.84" cy="386.90" rx="2.9" ry="4.1" fill="#1c0cff"/>
<ellipse cx="610.93" cy="388.70" rx="2.9" ry="4.1" fill="#1c0cff"/>
<ellipse cx="620.02" cy="390.50" rx="2.9" ry="4.1" fill="#1c0cff"/>
<ellipse cx="629.11" cy="393.00" rx="2.9" ry="4.1" fill="#1c0cff"/>
</g>
<line x1="633.9" y1="403.8" x2="636.4" y2="403.8" stroke="#555" stroke-width="0.8"/>
<text transform="translate(639.2,411.8) scale(1.08,1)" font-family='"Liberation Serif",serif' font-size="18" text-anchor="start" fill="#111" stroke="#111" stroke-width="0.25">1</text>
<text transform="translate(639.8,465.3) scale(1.08,1)" font-family='"Liberation Serif",serif' font-size="18" text-anchor="start" fill="#111" stroke="#111" stroke-width="0.25">0</text>
<rect x="455.3" y="479.1" width="181.90000000000003" height="82.19999999999993" fill="#fff" stroke="#555" stroke-width="1"/>
<clipPath id="c4"><rect x="454.8" y="479.1" width="182.90000000000003" height="82.79999999999993"/></clipPath><g clip-path="url(#c4)">
<path d="M456.20,561.30 L465.32,560.51 L474.44,559.72 L483.56,558.93 L492.68,558.14 L501.80,557.35 L510.92,556.56 L520.04,555.77 L529.16,554.98 L538.28,554.19 L547.40,553.40 L556.52,552.61 L565.64,551.82 L574.76,551.03 L583.88,550.24 L593.00,549.45 L602.12,548.66 L611.24,547.87 L620.36,547.08 L629.48,546.29" fill="none" stroke="#f0784f" stroke-width="0.7" stroke-opacity="0.45"/>
<ellipse cx="456.20" cy="561.30" rx="2.65" ry="3.55" fill="#fff" fill-opacity="0.85" stroke="#f0784f" stroke-width="1.1"/>
<ellipse cx="465.32" cy="560.51" rx="2.65" ry="3.55" fill="#fff" fill-opacity="0.85" stroke="#f0784f" stroke-width="1.1"/>
<ellipse cx="474.44" cy="559.72" rx="2.65" ry="3.55" fill="#fff" fill-opacity="0.85" stroke="#f0784f" stroke-width="1.1"/>
<ellipse cx="483.56" cy="558.93" rx="2.65" ry="3.55" fill="#fff" fill-opacity="0.85" stroke="#f0784f" stroke-width="1.1"/>
<ellipse cx="492.68" cy="558.14" rx="2.65" ry="3.55" fill="#fff" fill-opacity="0.85" stroke="#f0784f" stroke-width="1.1"/>
<ellipse cx="501.80" cy="557.35" rx="2.65" ry="3.55" fill="#fff" fill-opacity="0.85" stroke="#f0784f" stroke-width="1.1"/>
<ellipse cx="510.92" cy="556.56" rx="2.65" ry="3.55" fill="#fff" fill-opacity="0.85" stroke="#f0784f" stroke-width="1.1"/>
<ellipse cx="520.04" cy="555.77" rx="2.65" ry="3.55" fill="#fff" fill-opacity="0.85" stroke="#f0784f" stroke-width="1.1"/>
<ellipse cx="529.16" cy="554.98" rx="2.65" ry="3.55" fill="#fff" fill-opacity="0.85" stroke="#f0784f" stroke-width="1.1"/>
<ellipse cx="538.28" cy="554.19" rx="2.65" ry="3.55" fill="#fff" fill-opacity="0.85" stroke="#f0784f" stroke-width="1.1"/>
<ellipse cx="547.40" cy="553.40" rx="2.65" ry="3.55" fill="#fff" fill-opacity="0.85" stroke="#f0784f" stroke-width="1.1"/>
<ellipse cx="556.52" cy="552.61" rx="2.65" ry="3.55" fill="#fff" fill-opacity="0.85" stroke="#f0784f" stroke-width="1.1"/>
<ellipse cx="565.64" cy="551.82" rx="2.65" ry="3.55" fill="#fff" fill-opacity="0.85" stroke="#f0784f" stroke-width="1.1"/>
<ellipse cx="574.76" cy="551.03" rx="2.65" ry="3.55" fill="#fff" fill-opacity="0.85" stroke="#f0784f" stroke-width="1.1"/>
<ellipse cx="583.88" cy="550.24" rx="2.65" ry="3.55" fill="#fff" fill-opacity="0.85" stroke="#f0784f" stroke-width="1.1"/>
<ellipse cx="593.00" cy="549.45" rx="2.65" ry="3.55" fill="#fff" fill-opacity="0.85" stroke="#f0784f" stroke-width="1.1"/>
<ellipse cx="602.12" cy="548.66" rx="2.65" ry="3.55" fill="#fff" fill-opacity="0.85" stroke="#f0784f" stroke-width="1.1"/>
<ellipse cx="611.24" cy="547.87" rx="2.65" ry="3.55" fill="#fff" fill-opacity="0.85" stroke="#f0784f" stroke-width="1.1"/>
<ellipse cx="620.36" cy="547.08" rx="2.65" ry="3.55" fill="#fff" fill-opacity="0.85" stroke="#f0784f" stroke-width="1.1"/>
<ellipse cx="629.48" cy="546.29" rx="2.65" ry="3.55" fill="#fff" fill-opacity="0.85" stroke="#f0784f" stroke-width="1.1"/>
<path d="M457.20,561.30 L466.32,558.70 L475.44,557.40 L484.56,556.30 L493.68,555.20 L502.80,554.20 L511.92,552.70 L521.04,551.20 L530.16,549.70 L539.28,548.20 L548.40,547.30 L557.52,546.10 L566.64,544.80 L575.76,543.60 L584.88,542.30 L594.00,541.10 L603.12,539.80 L612.24,538.60 L621.36,537.30 L630.48,536.10" fill="none" stroke="#6b7f8e" stroke-width="0.7" stroke-opacity="0.45"/>
<ellipse cx="457.20" cy="561.30" rx="2.65" ry="3.55" fill="#fff" fill-opacity="0.85" stroke="#6b7f8e" stroke-width="1.1"/>
<ellipse cx="466.32" cy="558.70" rx="2.65" ry="3.55" fill="#fff" fill-opacity="0.85" stroke="#6b7f8e" stroke-width="1.1"/>
<ellipse cx="475.44" cy="557.40" rx="2.65" ry="3.55" fill="#fff" fill-opacity="0.85" stroke="#6b7f8e" stroke-width="1.1"/>
<ellipse cx="484.56" cy="556.30" rx="2.65" ry="3.55" fill="#fff" fill-opacity="0.85" stroke="#6b7f8e" stroke-width="1.1"/>
<ellipse cx="493.68" cy="555.20" rx="2.65" ry="3.55" fill="#fff" fill-opacity="0.85" stroke="#6b7f8e" stroke-width="1.1"/>
<ellipse cx="502.80" cy="554.20" rx="2.65" ry="3.55" fill="#fff" fill-opacity="0.85" stroke="#6b7f8e" stroke-width="1.1"/>
<ellipse cx="511.92" cy="552.70" rx="2.65" ry="3.55" fill="#fff" fill-opacity="0.85" stroke="#6b7f8e" stroke-width="1.1"/>
<ellipse cx="521.04" cy="551.20" rx="2.65" ry="3.55" fill="#fff" fill-opacity="0.85" stroke="#6b7f8e" stroke-width="1.1"/>
<ellipse cx="530.16" cy="549.70" rx="2.65" ry="3.55" fill="#fff" fill-opacity="0.85" stroke="#6b7f8e" stroke-width="1.1"/>
<ellipse cx="539.28" cy="548.20" rx="2.65" ry="3.55" fill="#fff" fill-opacity="0.85" stroke="#6b7f8e" stroke-width="1.1"/>
<ellipse cx="548.40" cy="547.30" rx="2.65" ry="3.55" fill="#fff" fill-opacity="0.85" stroke="#6b7f8e" stroke-width="1.1"/>
<ellipse cx="557.52" cy="546.10" rx="2.65" ry="3.55" fill="#fff" fill-opacity="0.85" stroke="#6b7f8e" stroke-width="1.1"/>
<ellipse cx="566.64" cy="544.80" rx="2.65" ry="3.55" fill="#fff" fill-opacity="0.85" stroke="#6b7f8e" stroke-width="1.1"/>
<ellipse cx="575.76" cy="543.60" rx="2.65" ry="3.55" fill="#fff" fill-opacity="0.85" stroke="#6b7f8e" stroke-width="1.1"/>
<ellipse cx="584.88" cy="542.30" rx="2.65" ry="3.55" fill="#fff" fill-opacity="0.85" stroke="#6b7f8e" stroke-width="1.1"/>
<ellipse cx="594.00" cy="541.10" rx="2.65" ry="3.55" fill="#fff" fill-opacity="0.85" stroke="#6b7f8e" stroke-width="1.1"/>
<ellipse cx="603.12" cy="539.80" rx="2.65" ry="3.55" fill="#fff" fill-opacity="0.85" stroke="#6b7f8e" stroke-width="1.1"/>
<ellipse cx="612.24" cy="538.60" rx="2.65" ry="3.55" fill="#fff" fill-opacity="0.85" stroke="#6b7f8e" stroke-width="1.1"/>
<ellipse cx="621.36" cy="537.30" rx="2.65" ry="3.55" fill="#fff" fill-opacity="0.85" stroke="#6b7f8e" stroke-width="1.1"/>
<ellipse cx="630.48" cy="536.10" rx="2.65" ry="3.55" fill="#fff" fill-opacity="0.85" stroke="#6b7f8e" stroke-width="1.1"/>
<path d="M456.20,561.30 L465.32,558.70 L474.44,557.40 L483.56,556.30 L492.68,555.20 L501.80,554.20 L510.92,552.70 L520.04,551.20 L529.16,549.70 L538.28,548.20 L547.40,547.30 L556.52,546.10 L565.64,544.80 L574.76,543.60 L583.88,542.30 L593.00,541.10 L602.12,539.80 L611.24,538.60 L620.36,537.30 L629.48,536.10" fill="none" stroke="#1c0cff" stroke-width="0.7" stroke-opacity="0.45"/>
<ellipse cx="456.20" cy="561.30" rx="2.65" ry="3.55" fill="#fff" fill-opacity="0.85" stroke="#1c0cff" stroke-width="1.1"/>
<ellipse cx="465.32" cy="558.70" rx="2.65" ry="3.55" fill="#fff" fill-opacity="0.85" stroke="#1c0cff" stroke-width="1.1"/>
<ellipse cx="474.44" cy="557.40" rx="2.65" ry="3.55" fill="#fff" fill-opacity="0.85" stroke="#1c0cff" stroke-width="1.1"/>
<ellipse cx="483.56" cy="556.30" rx="2.65" ry="3.55" fill="#fff" fill-opacity="0.85" stroke="#1c0cff" stroke-width="1.1"/>
<ellipse cx="492.68" cy="555.20" rx="2.65" ry="3.55" fill="#fff" fill-opacity="0.85" stroke="#1c0cff" stroke-width="1.1"/>
<ellipse cx="501.80" cy="554.20" rx="2.65" ry="3.55" fill="#fff" fill-opacity="0.85" stroke="#1c0cff" stroke-width="1.1"/>
<ellipse cx="510.92" cy="552.70" rx="2.65" ry="3.55" fill="#fff" fill-opacity="0.85" stroke="#1c0cff" stroke-width="1.1"/>
<ellipse cx="520.04" cy="551.20" rx="2.65" ry="3.55" fill="#fff" fill-opacity="0.85" stroke="#1c0cff" stroke-width="1.1"/>
<ellipse cx="529.16" cy="549.70" rx="2.65" ry="3.55" fill="#fff" fill-opacity="0.85" stroke="#1c0cff" stroke-width="1.1"/>
<ellipse cx="538.28" cy="548.20" rx="2.65" ry="3.55" fill="#fff" fill-opacity="0.85" stroke="#1c0cff" stroke-width="1.1"/>
<ellipse cx="547.40" cy="547.30" rx="2.65" ry="3.55" fill="#fff" fill-opacity="0.85" stroke="#1c0cff" stroke-width="1.1"/>
<ellipse cx="556.52" cy="546.10" rx="2.65" ry="3.55" fill="#fff" fill-opacity="0.85" stroke="#1c0cff" stroke-width="1.1"/>
<ellipse cx="565.64" cy="544.80" rx="2.65" ry="3.55" fill="#fff" fill-opacity="0.85" stroke="#1c0cff" stroke-width="1.1"/>
<ellipse cx="574.76" cy="543.60" rx="2.65" ry="3.55" fill="#fff" fill-opacity="0.85" stroke="#1c0cff" stroke-width="1.1"/>
<ellipse cx="583.88" cy="542.30" rx="2.65" ry="3.55" fill="#fff" fill-opacity="0.85" stroke="#1c0cff" stroke-width="1.1"/>
<ellipse cx="593.00" cy="541.10" rx="2.65" ry="3.55" fill="#fff" fill-opacity="0.85" stroke="#1c0cff" stroke-width="1.1"/>
<ellipse cx="602.12" cy="539.80" rx="2.65" ry="3.55" fill="#fff" fill-opacity="0.85" stroke="#1c0cff" stroke-width="1.1"/>
<ellipse cx="611.24" cy="538.60" rx="2.65" ry="3.55" fill="#fff" fill-opacity="0.85" stroke="#1c0cff" stroke-width="1.1"/>
<ellipse cx="620.36" cy="537.30" rx="2.65" ry="3.55" fill="#fff" fill-opacity="0.85" stroke="#1c0cff" stroke-width="1.1"/>
<ellipse cx="629.48" cy="536.10" rx="2.65" ry="3.55" fill="#fff" fill-opacity="0.85" stroke="#1c0cff" stroke-width="1.1"/>
<path d="M456.20,561.30 L465.32,554.30 L474.44,547.70 L483.56,541.00 L492.68,535.90 L501.80,530.80 L510.92,526.70 L520.04,523.10 L529.16,519.60 L538.28,516.60 L547.40,514.00 L556.52,511.90 L565.64,509.90 L574.76,507.80 L583.88,505.80 L593.00,504.70 L602.12,503.70 L611.24,503.10 L620.36,502.70 L629.48,502.70" fill="none" stroke="#f0784f" stroke-width="0.7" stroke-opacity="0.45"/>
<ellipse cx="456.20" cy="561.30" rx="2.9" ry="4.1" fill="#f0784f"/>
<ellipse cx="465.32" cy="554.30" rx="2.9" ry="4.1" fill="#f0784f"/>
<ellipse cx="474.44" cy="547.70" rx="2.9" ry="4.1" fill="#f0784f"/>
<ellipse cx="483.56" cy="541.00" rx="2.9" ry="4.1" fill="#f0784f"/>
<ellipse cx="492.68" cy="535.90" rx="2.9" ry="4.1" fill="#f0784f"/>
<ellipse cx="501.80" cy="530.80" rx="2.9" ry="4.1" fill="#f0784f"/>
<ellipse cx="510.92" cy="526.70" rx="2.9" ry="4.1" fill="#f0784f"/>
<ellipse cx="520.04" cy="523.10" rx="2.9" ry="4.1" fill="#f0784f"/>
<ellipse cx="529.16" cy="519.60" rx="2.9" ry="4.1" fill="#f0784f"/>
<ellipse cx="538.28" cy="516.60" rx="2.9" ry="4.1" fill="#f0784f"/>
<ellipse cx="547.40" cy="514.00" rx="2.9" ry="4.1" fill="#f0784f"/>
<ellipse cx="556.52" cy="511.90" rx="2.9" ry="4.1" fill="#f0784f"/>
<ellipse cx="565.64" cy="509.90" rx="2.9" ry="4.1" fill="#f0784f"/>
<ellipse cx="574.76" cy="507.80" rx="2.9" ry="4.1" fill="#f0784f"/>
<ellipse cx="583.88" cy="505.80" rx="2.9" ry="4.1" fill="#f0784f"/>
<ellipse cx="593.00" cy="504.70" rx="2.9" ry="4.1" fill="#f0784f"/>
<ellipse cx="602.12" cy="503.70" rx="2.9" ry="4.1" fill="#f0784f"/>
<ellipse cx="611.24" cy="503.10" rx="2.9" ry="4.1" fill="#f0784f"/>
<ellipse cx="620.36" cy="502.70" rx="2.9" ry="4.1" fill="#f0784f"/>
<ellipse cx="629.48" cy="502.70" rx="2.9" ry="4.1" fill="#f0784f"/>
<path d="M457.30,561.30 L466.42,548.10 L475.54,536.90 L484.66,528.80 L493.78,521.60 L502.90,516.10 L512.02,511.50 L521.14,507.40 L530.26,504.80 L539.38,502.90 L548.50,502.30 L557.62,502.30 L566.74,503.90 L575.86,507.20 L584.98,509.90 L594.10,512.90 L603.22,516.00 L612.34,519.00 L621.46,521.50 L630.58,523.80" fill="none" stroke="#6b7f8e" stroke-width="0.7" stroke-opacity="0.45"/>
<ellipse cx="457.30" cy="561.30" rx="2.9" ry="4.1" fill="#6b7f8e"/>
<ellipse cx="466.42" cy="548.10" rx="2.9" ry="4.1" fill="#6b7f8e"/>
<ellipse cx="475.54" cy="536.90" rx="2.9" ry="4.1" fill="#6b7f8e"/>
<ellipse cx="484.66" cy="528.80" rx="2.9" ry="4.1" fill="#6b7f8e"/>
<ellipse cx="493.78" cy="521.60" rx="2.9" ry="4.1" fill="#6b7f8e"/>
<ellipse cx="502.90" cy="516.10" rx="2.9" ry="4.1" fill="#6b7f8e"/>
<ellipse cx="512.02" cy="511.50" rx="2.9" ry="4.1" fill="#6b7f8e"/>
<ellipse cx="521.14" cy="507.40" rx="2.9" ry="4.1" fill="#6b7f8e"/>
<ellipse cx="530.26" cy="504.80" rx="2.9" ry="4.1" fill="#6b7f8e"/>
<ellipse cx="539.38" cy="502.90" rx="2.9" ry="4.1" fill="#6b7f8e"/>
<ellipse cx="548.50" cy="502.30" rx="2.9" ry="4.1" fill="#6b7f8e"/>
<ellipse cx="557.62" cy="502.30" rx="2.9" ry="4.1" fill="#6b7f8e"/>
<ellipse cx="566.74" cy="503.90" rx="2.9" ry="4.1" fill="#6b7f8e"/>
<ellipse cx="575.86" cy="507.20" rx="2.9" ry="4.1" fill="#6b7f8e"/>
<ellipse cx="584.98" cy="509.90" rx="2.9" ry="4.1" fill="#6b7f8e"/>
<ellipse cx="594.10" cy="512.90" rx="2.9" ry="4.1" fill="#6b7f8e"/>
<ellipse cx="603.22" cy="516.00" rx="2.9" ry="4.1" fill="#6b7f8e"/>
<ellipse cx="612.34" cy="519.00" rx="2.9" ry="4.1" fill="#6b7f8e"/>
<ellipse cx="621.46" cy="521.50" rx="2.9" ry="4.1" fill="#6b7f8e"/>
<ellipse cx="630.58" cy="523.80" rx="2.9" ry="4.1" fill="#6b7f8e"/>
<path d="M456.20,561.30 L465.32,548.10 L474.44,536.90 L483.56,528.80 L492.68,521.60 L501.80,516.10 L510.92,511.50 L520.04,507.40 L529.16,504.80 L538.28,502.90 L547.40,502.30 L556.52,502.30 L565.64,503.90 L574.76,507.20 L583.88,509.90 L593.00,512.90 L602.12,516.00 L611.24,519.00 L620.36,521.50 L629.48,523.80" fill="none" stroke="#1c0cff" stroke-width="0.7" stroke-opacity="0.45"/>
<ellipse cx="456.20" cy="561.30" rx="2.9" ry="4.1" fill="#1c0cff"/>
<ellipse cx="465.32" cy="548.10" rx="2.9" ry="4.1" fill="#1c0cff"/>
<ellipse cx="474.44" cy="536.90" rx="2.9" ry="4.1" fill="#1c0cff"/>
<ellipse cx="483.56" cy="528.80" rx="2.9" ry="4.1" fill="#1c0cff"/>
<ellipse cx="492.68" cy="521.60" rx="2.9" ry="4.1" fill="#1c0cff"/>
<ellipse cx="501.80" cy="516.10" rx="2.9" ry="4.1" fill="#1c0cff"/>
<ellipse cx="510.92" cy="511.50" rx="2.9" ry="4.1" fill="#1c0cff"/>
<ellipse cx="520.04" cy="507.40" rx="2.9" ry="4.1" fill="#1c0cff"/>
<ellipse cx="529.16" cy="504.80" rx="2.9" ry="4.1" fill="#1c0cff"/>
<ellipse cx="538.28" cy="502.90" rx="2.9" ry="4.1" fill="#1c0cff"/>
<ellipse cx="547.40" cy="502.30" rx="2.9" ry="4.1" fill="#1c0cff"/>
<ellipse cx="556.52" cy="502.30" rx="2.9" ry="4.1" fill="#1c0cff"/>
<ellipse cx="565.64" cy="503.90" rx="2.9" ry="4.1" fill="#1c0cff"/>
<ellipse cx="574.76" cy="507.20" rx="2.9" ry="4.1" fill="#1c0cff"/>
<ellipse cx="583.88" cy="509.90" rx="2.9" ry="4.1" fill="#1c0cff"/>
<ellipse cx="593.00" cy="512.90" rx="2.9" ry="4.1" fill="#1c0cff"/>
<ellipse cx="602.12" cy="516.00" rx="2.9" ry="4.1" fill="#1c0cff"/>
<ellipse cx="611.24" cy="519.00" rx="2.9" ry="4.1" fill="#1c0cff"/>
<ellipse cx="620.36" cy="521.50" rx="2.9" ry="4.1" fill="#1c0cff"/>
<ellipse cx="629.48" cy="523.80" rx="2.9" ry="4.1" fill="#1c0cff"/>
</g>
<line x1="455.3" y1="503.1" x2="637.2" y2="503.1" stroke="#111" stroke-width="1.5"/>
<line x1="634.7" y1="520" x2="637.2" y2="520" stroke="#555" stroke-width="0.8"/>
<line x1="455.3" y1="520" x2="457.3" y2="520" stroke="#555" stroke-width="0.8"/>
<g transform="translate(462.00,497.60)"><text x="0.00" y="0.00" font-family='"Liberation Serif",serif' font-size="15.50" fill="#111" stroke="#111" stroke-width="0.15">1</text>
<text x="8.84" y="0.00" font-family='"Liberation Serif",serif' font-size="15.50" fill="#111" stroke="#111" stroke-width="0.15">/</text>
<text x="14.23" y="3.88" font-family='"Liberation Serif",serif' font-size="22.47" fill="#111" stroke="#111" stroke-width="0.15">√</text>
<text x="27.00" y="0.00" font-family='"Liberation Serif",serif' font-size="15.50" fill="#111" stroke="#111" stroke-width="0.15">2</text>
<line x1="25.86" y1="-13.41" x2="35.22" y2="-13.41" stroke="#111" stroke-width="0.94"/></g>
<text transform="translate(640,490.4) scale(1.08,1)" font-family='"Liberation Serif",serif' font-size="18" text-anchor="start" fill="#111" stroke="#111" stroke-width="0.25">1</text>
<text transform="translate(639.8,564.6) scale(1.08,1)" font-family='"Liberation Serif",serif' font-size="18" text-anchor="start" fill="#111" stroke="#111" stroke-width="0.25">0</text>
<text transform="translate(455,578.2) scale(1.08,1)" font-family='"Liberation Serif",serif' font-size="18" text-anchor="middle" fill="#111" stroke="#111" stroke-width="0.25">0</text>
<text transform="translate(501.5,578.2) scale(1.08,1)" font-family='"Liberation Serif",serif' font-size="18" text-anchor="middle" fill="#111" stroke="#111" stroke-width="0.25">0.5</text>
<text transform="translate(593.5,578.2) scale(1.08,1)" font-family='"Liberation Serif",serif' font-size="18" text-anchor="middle" fill="#111" stroke="#111" stroke-width="0.25">1.5</text>
<text transform="translate(636.6,578.2) scale(1.08,1)" font-family='"Liberation Serif",serif' font-size="18" text-anchor="middle" fill="#111" stroke="#111" stroke-width="0.25">2</text>
<g transform="translate(526.40,584.40)"><text x="0.00" y="0.00" font-family='"Liberation Serif",serif' font-size="18.00" font-style="italic" fill="#111" stroke="#111" stroke-width="0.2">t</text>
<text x="8.06" y="0.00" font-family='"Liberation Serif",serif' font-size="18.00" fill="#111" stroke="#111" stroke-width="0.2">[</text>
<text x="14.06" y="0.00" font-family='"Liberation Serif",serif' font-size="18.00" font-style="italic" fill="#111" stroke="#111" stroke-width="0.2">μs</text>
<text x="30.10" y="0.00" font-family='"Liberation Serif",serif' font-size="18.00" fill="#111" stroke="#111" stroke-width="0.2">]</text></g>
<g transform="translate(16.80,459.20) rotate(-90) scale(1,1.12)"><text x="0.00" y="0.00" font-family='"DejaVu Serif","DejaVu Sans",serif' font-size="18.20" fill="#111" stroke="#111" stroke-width="0.25">⟨</text>
<text x="7.03" y="0.00" font-family='"Liberation Serif",serif' font-size="18.20" font-style="italic" fill="#111" stroke="#111" stroke-width="0.25">p</text>
<text x="16.05" y="4.00" font-family='"Liberation Serif",serif' font-size="12.74" font-style="italic" fill="#111" stroke="#111" stroke-width="0.25">z</text>
<text x="20.96" y="6.81" font-family='"Liberation Serif",serif' font-size="10.96" fill="#111" stroke="#111" stroke-width="0.25">2</text>
<text x="26.38" y="0.00" font-family='"DejaVu Serif","DejaVu Sans",serif' font-size="18.20" fill="#111" stroke="#111" stroke-width="0.25">⟩</text>
<text x="34.68" y="0.00" font-family='"Liberation Serif",serif' font-size="18.20" fill="#111" stroke="#111" stroke-width="0.25">/</text>
<text x="40.95" y="0.00" font-family='"Liberation Serif",serif' font-size="18.20" font-style="italic" fill="#111" stroke="#111" stroke-width="0.25">σ</text>
<text x="49.84" y="4.00" font-family='"Liberation Serif",serif' font-size="12.74" font-style="italic" fill="#111" stroke="#111" stroke-width="0.25">p</text>
<text x="56.15" y="6.81" font-family='"Liberation Serif",serif' font-size="10.96" font-style="italic" fill="#111" stroke="#111" stroke-width="0.25">z</text>
<text x="60.37" y="9.22" font-family='"Liberation Serif",serif' font-size="9.42" fill="#111" stroke="#111" stroke-width="0.25">2</text>
<text x="65.04" y="4.00" font-family='"Liberation Serif",serif' font-size="12.74" fill="#111" stroke="#111" stroke-width="0.25">,0</text></g>
<g transform="translate(14.60,544.00) rotate(-90) scale(1,1.12)"><text x="0.00" y="0.00" font-family='"Liberation Serif",serif' font-size="17.80" fill="#111" stroke="#111" stroke-width="0.25">SNR</text>
<text x="34.63" y="3.92" font-family='"Liberation Serif",serif' font-size="12.46" font-style="italic" fill="#111" stroke="#111" stroke-width="0.25">p</text>
<text x="40.86" y="6.66" font-family='"Liberation Serif",serif' font-size="10.72" font-style="italic" fill="#111" stroke="#111" stroke-width="0.25">z</text>
<text x="45.03" y="9.01" font-family='"Liberation Serif",serif' font-size="9.22" fill="#111" stroke="#111" stroke-width="0.25">2</text></g>
<g transform="translate(670.20,454.80) rotate(-90) scale(1,1.12)"><text x="0.00" y="0.00" font-family='"DejaVu Serif","DejaVu Sans",serif' font-size="18.20" fill="#111" stroke="#111" stroke-width="0.25">⟨</text>
<text x="7.03" y="0.00" font-family='"Liberation Serif",serif' font-size="18.20" font-style="italic" fill="#111" stroke="#111" stroke-width="0.25">p</text>
<text x="16.05" y="4.00" font-family='"Liberation Serif",serif' font-size="12.74" font-style="italic" fill="#111" stroke="#111" stroke-width="0.25">z</text>
<text x="20.96" y="6.81" font-family='"Liberation Serif",serif' font-size="10.96" fill="#111" stroke="#111" stroke-width="0.25">2</text>
<text x="26.38" y="0.00" font-family='"DejaVu Serif","DejaVu Sans",serif' font-size="18.20" fill="#111" stroke="#111" stroke-width="0.25">⟩</text>
<text x="34.68" y="0.00" font-family='"Liberation Serif",serif' font-size="18.20" fill="#111" stroke="#111" stroke-width="0.25">/</text>
<text x="40.95" y="0.00" font-family='"Liberation Serif",serif' font-size="18.20" font-style="italic" fill="#111" stroke="#111" stroke-width="0.25">σ</text>
<text x="49.84" y="4.00" font-family='"Liberation Serif",serif' font-size="12.74" font-style="italic" fill="#111" stroke="#111" stroke-width="0.25">p</text>
<text x="56.15" y="6.81" font-family='"Liberation Serif",serif' font-size="10.96" font-style="italic" fill="#111" stroke="#111" stroke-width="0.25">z</text>
<text x="60.37" y="9.22" font-family='"Liberation Serif",serif' font-size="9.42" fill="#111" stroke="#111" stroke-width="0.25">2</text>
<text x="65.04" y="4.00" font-family='"Liberation Serif",serif' font-size="12.74" fill="#111" stroke="#111" stroke-width="0.25">,0</text></g>
<g transform="translate(674.00,541.50) rotate(-90) scale(1,1.12)"><text x="0.00" y="0.00" font-family='"Liberation Serif",serif' font-size="17.80" fill="#111" stroke="#111" stroke-width="0.25">SNR</text>
<text x="34.63" y="3.92" font-family='"Liberation Serif",serif' font-size="12.46" font-style="italic" fill="#111" stroke="#111" stroke-width="0.25">p</text>
<text x="40.86" y="6.66" font-family='"Liberation Serif",serif' font-size="10.72" font-style="italic" fill="#111" stroke="#111" stroke-width="0.25">z</text>
<text x="45.03" y="9.01" font-family='"Liberation Serif",serif' font-size="9.22" fill="#111" stroke="#111" stroke-width="0.25">2</text></g>
</svg>
</body></html>
